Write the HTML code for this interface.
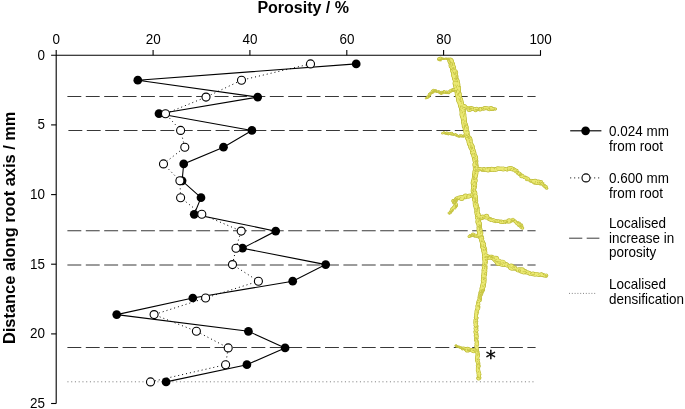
<!DOCTYPE html><html><head><meta charset="utf-8"><title>Porosity</title>
<style>html,body{margin:0;padding:0;background:#fff}svg{display:block}text{font-family:"Liberation Sans",sans-serif;fill:#000}.t{font-size:14.6px}.b{font-size:16px;font-weight:bold}</style></head><body>
<svg width="685" height="409" viewBox="0 0 685 409">
<rect width="685" height="409" fill="#fff"/>
<line x1="67.4" y1="96.5" x2="535.6" y2="96.5" stroke="#383838" stroke-width="1" stroke-dasharray="13.9 4.5"/>
<line x1="68.4" y1="130.5" x2="536.8" y2="130.5" stroke="#383838" stroke-width="1" stroke-dasharray="13.9 4.5"/>
<line x1="67.4" y1="230.75" x2="535.6" y2="230.75" stroke="#383838" stroke-width="1" stroke-dasharray="13.9 4.5"/>
<line x1="67.4" y1="265.0" x2="535.6" y2="265.0" stroke="#383838" stroke-width="1" stroke-dasharray="13.9 4.5"/>
<line x1="67.4" y1="347.5" x2="535.6" y2="347.5" stroke="#383838" stroke-width="1" stroke-dasharray="13.9 4.5"/>
<line x1="67.4" y1="381.8" x2="536" y2="381.8" stroke="#858585" stroke-width="1" stroke-dasharray="1.1 2.65"/>
<g fill="#bebc3a"><circle cx="450.2" cy="60.3" r="2.86"/><circle cx="450.8" cy="61.4" r="3.14"/><circle cx="451.4" cy="62.7" r="2.69"/><circle cx="452.0" cy="64.1" r="2.86"/><circle cx="451.9" cy="65.4" r="3.31"/><circle cx="452.4" cy="66.8" r="2.79"/><circle cx="453.0" cy="67.9" r="3.08"/><circle cx="453.4" cy="69.1" r="2.73"/><circle cx="453.0" cy="70.5" r="2.91"/><circle cx="454.2" cy="71.7" r="3.04"/><circle cx="454.9" cy="72.6" r="3.22"/><circle cx="454.6" cy="74.2" r="3.29"/><circle cx="454.4" cy="75.0" r="3.34"/><circle cx="455.6" cy="76.5" r="2.84"/><circle cx="455.1" cy="77.8" r="3.15"/><circle cx="455.4" cy="79.2" r="2.97"/><circle cx="456.2" cy="80.5" r="3.12"/><circle cx="456.4" cy="82.0" r="3.38"/><circle cx="455.8" cy="83.2" r="3.19"/><circle cx="456.9" cy="84.3" r="3.41"/><circle cx="456.4" cy="85.7" r="3.22"/><circle cx="456.7" cy="86.5" r="3.11"/><circle cx="457.7" cy="87.8" r="3.33"/><circle cx="457.3" cy="89.1" r="3.29"/><circle cx="458.0" cy="90.8" r="2.90"/><circle cx="458.1" cy="91.6" r="2.71"/><circle cx="458.0" cy="93.4" r="3.22"/><circle cx="458.5" cy="94.7" r="3.42"/><circle cx="458.2" cy="95.8" r="2.91"/><circle cx="458.7" cy="96.9" r="2.70"/><circle cx="459.0" cy="97.9" r="3.14"/><circle cx="459.5" cy="99.8" r="3.34"/><circle cx="459.9" cy="100.7" r="3.36"/><circle cx="460.5" cy="102.0" r="3.07"/><circle cx="460.8" cy="103.5" r="3.10"/><circle cx="460.9" cy="104.6" r="3.06"/><circle cx="461.1" cy="106.0" r="2.86"/><circle cx="461.7" cy="106.7" r="3.07"/><circle cx="462.1" cy="108.0" r="2.99"/><circle cx="462.5" cy="109.3" r="3.15"/><circle cx="462.5" cy="110.9" r="3.15"/><circle cx="463.0" cy="112.2" r="2.95"/><circle cx="462.5" cy="113.5" r="2.70"/><circle cx="462.9" cy="114.6" r="3.41"/><circle cx="463.2" cy="115.9" r="3.13"/><circle cx="463.5" cy="117.3" r="2.92"/><circle cx="463.7" cy="118.7" r="2.91"/><circle cx="464.1" cy="119.9" r="2.70"/><circle cx="463.9" cy="121.3" r="2.68"/><circle cx="464.1" cy="122.3" r="2.63"/><circle cx="464.3" cy="123.5" r="2.95"/><circle cx="465.3" cy="124.9" r="2.70"/><circle cx="464.8" cy="126.1" r="3.06"/><circle cx="465.9" cy="127.4" r="2.92"/><circle cx="465.3" cy="128.8" r="2.62"/><circle cx="466.3" cy="130.2" r="2.60"/><circle cx="465.9" cy="131.5" r="2.59"/><circle cx="466.8" cy="132.5" r="2.91"/><circle cx="466.4" cy="134.0" r="2.56"/><circle cx="466.9" cy="135.0" r="2.65"/><circle cx="467.5" cy="136.5" r="2.76"/><circle cx="467.5" cy="137.8" r="2.57"/><circle cx="469.0" cy="138.7" r="3.07"/><circle cx="469.4" cy="139.8" r="3.12"/><circle cx="469.7" cy="141.3" r="2.98"/><circle cx="469.5" cy="142.3" r="2.82"/><circle cx="469.6" cy="143.7" r="2.62"/><circle cx="470.9" cy="144.6" r="2.67"/><circle cx="471.2" cy="146.4" r="3.09"/><circle cx="471.8" cy="147.4" r="3.08"/><circle cx="472.0" cy="148.4" r="2.48"/><circle cx="472.4" cy="149.8" r="2.67"/><circle cx="473.1" cy="151.1" r="2.75"/><circle cx="472.7" cy="152.5" r="2.70"/><circle cx="473.7" cy="153.4" r="2.80"/><circle cx="473.8" cy="155.0" r="2.60"/><circle cx="474.4" cy="156.3" r="2.59"/><circle cx="474.8" cy="157.0" r="3.02"/><circle cx="475.2" cy="158.2" r="2.90"/><circle cx="475.0" cy="159.8" r="2.65"/><circle cx="475.6" cy="161.2" r="2.76"/><circle cx="475.5" cy="162.0" r="2.47"/><circle cx="475.5" cy="163.8" r="2.55"/><circle cx="475.4" cy="164.8" r="3.06"/><circle cx="475.6" cy="166.1" r="2.68"/><circle cx="475.8" cy="167.4" r="2.91"/><circle cx="475.5" cy="168.5" r="2.60"/><circle cx="475.8" cy="170.0" r="2.85"/><circle cx="475.1" cy="171.3" r="2.52"/><circle cx="475.6" cy="172.5" r="2.88"/><circle cx="475.2" cy="173.9" r="3.02"/><circle cx="474.9" cy="175.3" r="2.72"/><circle cx="474.9" cy="176.4" r="2.76"/><circle cx="474.5" cy="177.9" r="2.64"/><circle cx="474.2" cy="179.0" r="2.52"/><circle cx="474.6" cy="180.3" r="3.07"/><circle cx="474.2" cy="181.5" r="3.09"/><circle cx="473.4" cy="183.1" r="2.79"/><circle cx="474.2" cy="184.4" r="2.92"/><circle cx="474.1" cy="185.5" r="2.93"/><circle cx="473.9" cy="186.5" r="2.54"/><circle cx="474.1" cy="187.8" r="2.57"/><circle cx="473.4" cy="189.6" r="2.53"/><circle cx="473.3" cy="190.9" r="2.59"/><circle cx="474.2" cy="192.1" r="2.55"/><circle cx="474.3" cy="193.3" r="3.04"/><circle cx="473.6" cy="194.7" r="3.02"/><circle cx="474.5" cy="195.6" r="2.82"/><circle cx="475.0" cy="196.9" r="2.98"/><circle cx="474.9" cy="198.6" r="2.69"/><circle cx="474.7" cy="199.5" r="2.63"/><circle cx="475.5" cy="200.9" r="2.69"/><circle cx="475.4" cy="202.2" r="2.53"/><circle cx="475.3" cy="203.5" r="2.56"/><circle cx="475.8" cy="205.0" r="2.91"/><circle cx="476.4" cy="206.2" r="2.40"/><circle cx="476.4" cy="207.4" r="2.73"/><circle cx="477.0" cy="208.4" r="2.71"/><circle cx="477.1" cy="210.2" r="2.36"/><circle cx="477.0" cy="211.3" r="2.63"/><circle cx="477.0" cy="212.3" r="2.42"/><circle cx="477.2" cy="213.6" r="2.67"/><circle cx="478.1" cy="215.0" r="2.74"/><circle cx="477.7" cy="216.6" r="2.75"/><circle cx="477.7" cy="217.5" r="2.67"/><circle cx="478.1" cy="218.9" r="2.31"/><circle cx="478.2" cy="220.1" r="2.41"/><circle cx="478.1" cy="221.8" r="2.79"/><circle cx="478.8" cy="222.8" r="2.60"/><circle cx="479.2" cy="224.1" r="2.83"/><circle cx="479.3" cy="225.6" r="2.60"/><circle cx="479.5" cy="226.9" r="2.55"/><circle cx="479.1" cy="227.8" r="2.59"/><circle cx="479.7" cy="229.5" r="2.75"/><circle cx="479.4" cy="230.3" r="2.84"/><circle cx="479.5" cy="231.9" r="2.46"/><circle cx="480.5" cy="233.0" r="2.84"/><circle cx="480.1" cy="234.3" r="2.85"/><circle cx="480.2" cy="235.4" r="2.76"/><circle cx="480.7" cy="236.8" r="2.83"/><circle cx="481.4" cy="237.9" r="2.67"/><circle cx="481.5" cy="239.4" r="2.51"/><circle cx="481.9" cy="241.0" r="2.43"/><circle cx="482.2" cy="241.7" r="2.55"/><circle cx="482.6" cy="243.0" r="2.47"/><circle cx="483.2" cy="244.3" r="2.86"/><circle cx="482.9" cy="245.9" r="2.89"/><circle cx="483.1" cy="247.1" r="2.78"/><circle cx="484.0" cy="248.2" r="2.71"/><circle cx="484.4" cy="249.7" r="2.78"/><circle cx="483.8" cy="250.8" r="2.64"/><circle cx="484.8" cy="252.2" r="2.52"/><circle cx="484.5" cy="253.4" r="2.66"/><circle cx="484.8" cy="254.9" r="2.70"/><circle cx="484.8" cy="256.2" r="2.71"/><circle cx="484.9" cy="257.3" r="2.39"/><circle cx="485.1" cy="258.6" r="2.68"/><circle cx="484.8" cy="259.6" r="2.59"/><circle cx="485.2" cy="261.3" r="2.34"/><circle cx="485.2" cy="262.3" r="2.64"/><circle cx="484.8" cy="263.9" r="2.47"/><circle cx="484.8" cy="264.8" r="2.32"/><circle cx="484.6" cy="266.2" r="2.79"/><circle cx="484.7" cy="267.8" r="2.55"/><circle cx="484.9" cy="268.7" r="2.52"/><circle cx="483.9" cy="269.9" r="2.47"/><circle cx="484.5" cy="271.3" r="2.79"/><circle cx="484.0" cy="272.9" r="2.42"/><circle cx="484.3" cy="274.1" r="2.82"/><circle cx="483.8" cy="275.2" r="2.39"/><circle cx="483.8" cy="276.5" r="2.63"/><circle cx="483.9" cy="277.7" r="2.46"/><circle cx="483.9" cy="279.5" r="2.81"/><circle cx="483.4" cy="280.6" r="2.54"/><circle cx="483.8" cy="281.9" r="2.70"/><circle cx="483.5" cy="283.1" r="2.49"/><circle cx="483.3" cy="284.1" r="2.68"/><circle cx="483.1" cy="285.7" r="2.79"/><circle cx="482.7" cy="286.8" r="2.63"/><circle cx="482.2" cy="288.3" r="2.63"/><circle cx="482.3" cy="289.6" r="2.71"/><circle cx="482.2" cy="290.5" r="2.30"/><circle cx="481.3" cy="291.6" r="2.22"/><circle cx="480.3" cy="292.8" r="2.00"/><circle cx="480.7" cy="294.2" r="2.09"/><circle cx="480.2" cy="295.3" r="2.25"/><circle cx="479.8" cy="297.1" r="2.25"/><circle cx="479.7" cy="298.0" r="2.18"/><circle cx="479.7" cy="299.6" r="2.22"/><circle cx="479.2" cy="300.6" r="2.04"/><circle cx="478.2" cy="301.7" r="1.88"/><circle cx="478.1" cy="303.2" r="1.93"/><circle cx="478.2" cy="304.4" r="2.17"/><circle cx="477.7" cy="305.7" r="2.15"/><circle cx="477.6" cy="306.8" r="2.20"/><circle cx="477.8" cy="308.2" r="2.27"/><circle cx="477.4" cy="309.6" r="2.01"/><circle cx="476.6" cy="310.7" r="1.94"/><circle cx="476.6" cy="312.1" r="2.21"/><circle cx="476.5" cy="313.3" r="1.92"/><circle cx="476.3" cy="314.5" r="2.03"/><circle cx="476.1" cy="316.0" r="1.88"/><circle cx="475.8" cy="317.3" r="1.86"/><circle cx="476.4" cy="318.3" r="2.03"/><circle cx="475.8" cy="319.6" r="2.03"/><circle cx="475.6" cy="320.9" r="2.30"/><circle cx="475.5" cy="322.6" r="2.06"/><circle cx="475.5" cy="323.5" r="2.00"/><circle cx="475.7" cy="325.3" r="2.18"/><circle cx="476.4" cy="326.3" r="2.06"/><circle cx="475.6" cy="327.9" r="1.95"/><circle cx="475.7" cy="328.7" r="2.14"/><circle cx="476.4" cy="330.3" r="2.16"/><circle cx="475.4" cy="331.3" r="1.83"/><circle cx="475.4" cy="332.6" r="1.91"/><circle cx="476.4" cy="334.0" r="2.15"/><circle cx="476.0" cy="335.7" r="2.30"/><circle cx="476.6" cy="336.5" r="2.28"/><circle cx="476.3" cy="338.3" r="1.98"/><circle cx="476.0" cy="339.6" r="1.87"/><circle cx="476.2" cy="340.6" r="1.89"/><circle cx="476.9" cy="341.8" r="2.16"/><circle cx="476.7" cy="343.5" r="2.19"/><circle cx="477.0" cy="344.5" r="2.10"/><circle cx="476.3" cy="346.0" r="2.03"/><circle cx="476.4" cy="347.0" r="2.06"/><circle cx="476.9" cy="348.6" r="2.18"/><circle cx="476.9" cy="349.5" r="2.02"/><circle cx="476.5" cy="351.0" r="2.18"/><circle cx="477.3" cy="352.1" r="2.20"/><circle cx="477.6" cy="353.7" r="1.95"/><circle cx="477.7" cy="354.9" r="2.26"/><circle cx="477.7" cy="356.1" r="2.27"/><circle cx="477.1" cy="357.5" r="2.01"/><circle cx="477.2" cy="358.9" r="2.29"/><circle cx="477.3" cy="360.2" r="1.88"/><circle cx="477.4" cy="361.2" r="1.95"/><circle cx="478.0" cy="362.4" r="2.14"/><circle cx="478.5" cy="363.8" r="1.94"/><circle cx="478.0" cy="365.5" r="2.10"/><circle cx="478.5" cy="366.6" r="2.12"/><circle cx="477.9" cy="367.6" r="1.92"/><circle cx="478.0" cy="368.9" r="2.23"/><circle cx="478.1" cy="370.7" r="2.30"/><circle cx="478.5" cy="371.6" r="1.87"/><circle cx="478.8" cy="373.2" r="2.23"/><circle cx="479.1" cy="374.3" r="2.20"/><circle cx="478.8" cy="375.5" r="2.12"/><circle cx="479.0" cy="377.2" r="2.24"/><circle cx="479.0" cy="378.3" r="1.93"/><circle cx="478.5" cy="378.3" r="2.18"/><circle cx="449.1" cy="59.3" r="1.39"/><circle cx="448.1" cy="58.5" r="1.05"/><circle cx="446.7" cy="58.5" r="0.99"/><circle cx="445.5" cy="58.9" r="0.85"/><circle cx="445.4" cy="58.5" r="1.10"/><circle cx="443.7" cy="58.9" r="1.15"/><circle cx="442.7" cy="58.7" r="1.11"/><circle cx="442.2" cy="58.3" r="0.89"/><circle cx="440.8" cy="58.9" r="1.05"/><circle cx="440.5" cy="58.4" r="1.80"/><circle cx="439.3" cy="59.3" r="2.00"/><circle cx="438.9" cy="59.1" r="1.73"/><circle cx="455.5" cy="90.3" r="1.46"/><circle cx="455.5" cy="91.1" r="1.81"/><circle cx="453.5" cy="90.0" r="1.89"/><circle cx="453.0" cy="89.9" r="1.56"/><circle cx="451.8" cy="90.3" r="1.84"/><circle cx="450.7" cy="90.7" r="1.80"/><circle cx="450.2" cy="91.0" r="1.50"/><circle cx="448.9" cy="91.9" r="1.64"/><circle cx="448.8" cy="92.7" r="1.51"/><circle cx="447.0" cy="92.7" r="1.18"/><circle cx="446.7" cy="92.2" r="1.78"/><circle cx="446.0" cy="92.2" r="1.37"/><circle cx="444.5" cy="92.1" r="1.68"/><circle cx="444.0" cy="91.7" r="1.61"/><circle cx="443.0" cy="92.4" r="1.21"/><circle cx="441.5" cy="92.5" r="1.69"/><circle cx="441.3" cy="93.8" r="1.12"/><circle cx="440.4" cy="93.1" r="1.42"/><circle cx="439.0" cy="91.8" r="1.50"/><circle cx="438.7" cy="91.7" r="1.21"/><circle cx="437.1" cy="91.6" r="1.35"/><circle cx="435.7" cy="90.7" r="1.37"/><circle cx="435.5" cy="91.0" r="1.40"/><circle cx="433.6" cy="90.5" r="1.66"/><circle cx="433.0" cy="91.3" r="1.40"/><circle cx="432.7" cy="91.6" r="2.08"/><circle cx="432.2" cy="92.5" r="1.36"/><circle cx="430.4" cy="92.9" r="1.15"/><circle cx="429.9" cy="94.4" r="1.53"/><circle cx="429.4" cy="94.4" r="1.59"/><circle cx="429.4" cy="95.0" r="1.08"/><circle cx="427.6" cy="96.3" r="1.13"/><circle cx="427.6" cy="97.4" r="1.43"/><circle cx="427.2" cy="97.2" r="0.98"/><circle cx="425.9" cy="98.3" r="1.13"/><circle cx="463.3" cy="105.6" r="1.54"/><circle cx="464.4" cy="106.6" r="2.41"/><circle cx="464.2" cy="107.0" r="2.77"/><circle cx="466.2" cy="107.5" r="1.64"/><circle cx="466.8" cy="107.2" r="1.50"/><circle cx="468.3" cy="107.5" r="1.55"/><circle cx="468.3" cy="107.9" r="2.01"/><circle cx="469.4" cy="108.9" r="3.01"/><circle cx="470.5" cy="108.4" r="2.37"/><circle cx="472.1" cy="108.5" r="2.31"/><circle cx="473.2" cy="109.2" r="1.42"/><circle cx="473.9" cy="109.0" r="1.91"/><circle cx="474.6" cy="109.3" r="1.87"/><circle cx="475.6" cy="110.0" r="2.22"/><circle cx="476.7" cy="108.9" r="2.12"/><circle cx="477.9" cy="109.6" r="1.39"/><circle cx="479.5" cy="109.4" r="1.84"/><circle cx="480.2" cy="109.2" r="2.20"/><circle cx="481.1" cy="108.3" r="1.40"/><circle cx="482.2" cy="108.5" r="1.82"/><circle cx="483.4" cy="109.1" r="1.57"/><circle cx="484.7" cy="108.1" r="2.08"/><circle cx="484.9" cy="108.3" r="2.09"/><circle cx="486.6" cy="108.1" r="1.87"/><circle cx="487.4" cy="108.5" r="2.05"/><circle cx="488.5" cy="108.5" r="1.95"/><circle cx="489.5" cy="109.0" r="2.23"/><circle cx="491.0" cy="108.5" r="2.38"/><circle cx="491.3" cy="108.8" r="1.99"/><circle cx="493.1" cy="109.1" r="1.89"/><circle cx="493.7" cy="108.7" r="1.47"/><circle cx="495.2" cy="109.0" r="1.47"/><circle cx="495.6" cy="109.1" r="1.29"/><circle cx="464.8" cy="135.2" r="1.51"/><circle cx="464.5" cy="135.6" r="1.11"/><circle cx="463.3" cy="136.2" r="1.58"/><circle cx="461.4" cy="136.2" r="1.37"/><circle cx="461.3" cy="135.6" r="1.31"/><circle cx="459.9" cy="135.4" r="1.18"/><circle cx="458.1" cy="136.4" r="1.06"/><circle cx="457.6" cy="135.8" r="1.15"/><circle cx="456.9" cy="135.4" r="1.29"/><circle cx="455.9" cy="134.6" r="1.08"/><circle cx="455.3" cy="134.3" r="1.27"/><circle cx="453.6" cy="134.9" r="1.00"/><circle cx="452.6" cy="134.2" r="1.47"/><circle cx="451.6" cy="133.3" r="1.49"/><circle cx="451.2" cy="133.7" r="1.69"/><circle cx="449.3" cy="133.5" r="1.62"/><circle cx="448.3" cy="134.0" r="1.42"/><circle cx="447.2" cy="133.0" r="1.30"/><circle cx="446.6" cy="133.3" r="1.80"/><circle cx="446.0" cy="133.4" r="1.11"/><circle cx="443.9" cy="132.8" r="1.29"/><circle cx="443.8" cy="132.4" r="1.06"/><circle cx="442.5" cy="133.2" r="1.30"/><circle cx="476.6" cy="168.4" r="2.11"/><circle cx="478.5" cy="169.5" r="2.22"/><circle cx="479.0" cy="168.8" r="1.71"/><circle cx="480.4" cy="169.0" r="1.92"/><circle cx="481.1" cy="169.4" r="1.76"/><circle cx="481.9" cy="169.6" r="1.91"/><circle cx="483.6" cy="169.4" r="2.31"/><circle cx="484.5" cy="169.5" r="2.23"/><circle cx="485.8" cy="169.6" r="1.68"/><circle cx="486.9" cy="169.7" r="2.26"/><circle cx="488.1" cy="169.3" r="1.85"/><circle cx="488.1" cy="169.7" r="2.70"/><circle cx="489.7" cy="168.9" r="1.97"/><circle cx="490.6" cy="169.4" r="2.17"/><circle cx="491.7" cy="169.4" r="2.53"/><circle cx="492.2" cy="169.6" r="2.48"/><circle cx="494.2" cy="169.7" r="2.17"/><circle cx="495.2" cy="169.4" r="2.15"/><circle cx="496.1" cy="169.4" r="2.43"/><circle cx="497.0" cy="168.7" r="1.93"/><circle cx="497.8" cy="168.5" r="2.30"/><circle cx="499.3" cy="168.6" r="2.14"/><circle cx="500.0" cy="169.1" r="1.96"/><circle cx="501.1" cy="168.6" r="2.12"/><circle cx="501.7" cy="169.0" r="2.06"/><circle cx="503.2" cy="168.9" r="2.50"/><circle cx="504.0" cy="169.5" r="1.59"/><circle cx="505.3" cy="168.9" r="1.64"/><circle cx="506.0" cy="169.1" r="1.78"/><circle cx="507.1" cy="169.6" r="2.03"/><circle cx="508.9" cy="168.5" r="2.32"/><circle cx="509.2" cy="168.9" r="2.22"/><circle cx="510.9" cy="168.6" r="2.49"/><circle cx="511.6" cy="168.8" r="2.16"/><circle cx="512.7" cy="169.2" r="2.36"/><circle cx="513.3" cy="169.3" r="1.91"/><circle cx="513.9" cy="169.5" r="2.06"/><circle cx="515.6" cy="170.6" r="2.11"/><circle cx="516.3" cy="171.1" r="2.41"/><circle cx="517.2" cy="172.4" r="1.50"/><circle cx="518.3" cy="172.8" r="1.65"/><circle cx="518.1" cy="173.3" r="1.92"/><circle cx="518.9" cy="173.5" r="2.10"/><circle cx="519.7" cy="174.0" r="2.04"/><circle cx="520.9" cy="175.0" r="1.51"/><circle cx="521.6" cy="175.9" r="2.39"/><circle cx="523.1" cy="175.8" r="1.42"/><circle cx="523.5" cy="177.3" r="1.45"/><circle cx="524.5" cy="177.6" r="1.51"/><circle cx="525.3" cy="177.4" r="1.83"/><circle cx="526.2" cy="178.0" r="1.83"/><circle cx="527.1" cy="178.9" r="2.31"/><circle cx="528.0" cy="178.8" r="1.90"/><circle cx="528.8" cy="180.0" r="1.41"/><circle cx="530.2" cy="180.6" r="1.63"/><circle cx="530.9" cy="180.7" r="2.05"/><circle cx="532.0" cy="180.7" r="1.43"/><circle cx="533.2" cy="181.3" r="2.21"/><circle cx="533.6" cy="181.5" r="1.48"/><circle cx="535.1" cy="181.8" r="2.95"/><circle cx="536.0" cy="181.5" r="1.57"/><circle cx="537.4" cy="182.7" r="2.28"/><circle cx="538.4" cy="182.3" r="2.80"/><circle cx="538.9" cy="182.3" r="1.75"/><circle cx="540.8" cy="182.4" r="2.44"/><circle cx="540.7" cy="183.4" r="2.17"/><circle cx="542.2" cy="183.6" r="1.78"/><circle cx="542.9" cy="184.8" r="1.39"/><circle cx="543.9" cy="185.5" r="1.67"/><circle cx="544.5" cy="185.6" r="1.67"/><circle cx="544.6" cy="186.2" r="1.70"/><circle cx="545.9" cy="186.9" r="1.92"/><circle cx="546.7" cy="188.2" r="1.59"/><circle cx="472.4" cy="194.9" r="1.98"/><circle cx="471.7" cy="195.2" r="1.73"/><circle cx="470.1" cy="195.7" r="2.14"/><circle cx="469.6" cy="195.7" r="1.72"/><circle cx="468.7" cy="196.3" r="2.44"/><circle cx="467.1" cy="195.8" r="1.81"/><circle cx="466.5" cy="196.5" r="1.66"/><circle cx="465.6" cy="196.4" r="2.78"/><circle cx="464.2" cy="196.3" r="1.79"/><circle cx="463.6" cy="197.5" r="1.79"/><circle cx="462.6" cy="197.5" r="1.59"/><circle cx="461.6" cy="198.0" r="3.02"/><circle cx="460.8" cy="197.6" r="1.50"/><circle cx="459.2" cy="197.7" r="2.17"/><circle cx="458.2" cy="198.2" r="1.56"/><circle cx="456.9" cy="198.1" r="1.76"/><circle cx="456.2" cy="199.8" r="2.20"/><circle cx="455.8" cy="199.4" r="2.04"/><circle cx="454.1" cy="200.6" r="1.53"/><circle cx="453.1" cy="200.7" r="1.61"/><circle cx="453.1" cy="201.0" r="1.80"/><circle cx="454.1" cy="202.4" r="2.02"/><circle cx="454.0" cy="202.5" r="1.35"/><circle cx="455.5" cy="203.8" r="2.10"/><circle cx="455.1" cy="205.1" r="1.37"/><circle cx="456.6" cy="205.0" r="1.49"/><circle cx="455.6" cy="205.7" r="2.02"/><circle cx="454.4" cy="207.1" r="1.98"/><circle cx="453.4" cy="207.7" r="1.72"/><circle cx="452.9" cy="208.0" r="1.25"/><circle cx="452.2" cy="209.2" r="1.89"/><circle cx="451.4" cy="209.9" r="1.53"/><circle cx="451.4" cy="210.7" r="1.81"/><circle cx="450.9" cy="211.6" r="1.29"/><circle cx="450.3" cy="212.4" r="1.47"/><circle cx="449.0" cy="213.1" r="1.45"/><circle cx="479.2" cy="218.7" r="2.10"/><circle cx="480.9" cy="217.8" r="2.34"/><circle cx="481.6" cy="217.6" r="2.49"/><circle cx="482.6" cy="217.9" r="1.64"/><circle cx="482.7" cy="217.0" r="2.48"/><circle cx="484.1" cy="217.0" r="1.65"/><circle cx="485.3" cy="217.1" r="2.37"/><circle cx="486.5" cy="216.6" r="2.73"/><circle cx="486.8" cy="217.8" r="1.60"/><circle cx="488.2" cy="217.5" r="1.54"/><circle cx="488.6" cy="218.8" r="2.02"/><circle cx="490.2" cy="219.3" r="2.25"/><circle cx="490.8" cy="220.0" r="1.50"/><circle cx="491.3" cy="220.4" r="1.70"/><circle cx="492.9" cy="220.0" r="1.92"/><circle cx="494.0" cy="220.6" r="2.19"/><circle cx="495.1" cy="220.9" r="1.69"/><circle cx="495.9" cy="220.9" r="1.83"/><circle cx="497.1" cy="221.0" r="1.77"/><circle cx="498.0" cy="221.4" r="1.50"/><circle cx="498.7" cy="221.1" r="1.82"/><circle cx="500.0" cy="221.4" r="1.51"/><circle cx="500.9" cy="221.8" r="2.31"/><circle cx="501.9" cy="221.8" r="1.97"/><circle cx="502.6" cy="222.2" r="1.86"/><circle cx="503.5" cy="221.9" r="1.67"/><circle cx="504.7" cy="221.6" r="1.79"/><circle cx="506.2" cy="221.0" r="1.50"/><circle cx="507.7" cy="221.3" r="1.53"/><circle cx="508.3" cy="221.5" r="1.87"/><circle cx="509.1" cy="220.9" r="2.54"/><circle cx="509.9" cy="220.4" r="1.38"/><circle cx="511.2" cy="220.8" r="1.89"/><circle cx="511.7" cy="220.2" r="1.79"/><circle cx="513.0" cy="219.3" r="1.64"/><circle cx="513.6" cy="220.8" r="1.35"/><circle cx="515.1" cy="221.2" r="1.81"/><circle cx="515.4" cy="222.2" r="1.35"/><circle cx="516.2" cy="222.7" r="1.41"/><circle cx="516.9" cy="222.9" r="1.98"/><circle cx="518.7" cy="224.0" r="2.41"/><circle cx="519.1" cy="224.9" r="2.04"/><circle cx="519.3" cy="224.6" r="1.48"/><circle cx="520.8" cy="225.6" r="2.47"/><circle cx="521.4" cy="226.9" r="1.96"/><circle cx="521.8" cy="227.2" r="1.27"/><circle cx="522.5" cy="228.0" r="1.77"/><circle cx="479.2" cy="236.6" r="2.02"/><circle cx="478.0" cy="236.2" r="2.08"/><circle cx="476.6" cy="236.0" r="1.52"/><circle cx="476.2" cy="235.5" r="1.70"/><circle cx="475.2" cy="235.7" r="2.06"/><circle cx="474.5" cy="235.4" r="1.94"/><circle cx="473.0" cy="234.4" r="1.97"/><circle cx="472.4" cy="235.0" r="1.67"/><circle cx="470.8" cy="235.7" r="1.75"/><circle cx="470.2" cy="235.5" r="1.58"/><circle cx="469.1" cy="236.4" r="1.52"/><circle cx="485.6" cy="256.8" r="2.82"/><circle cx="487.1" cy="256.8" r="2.62"/><circle cx="487.8" cy="257.1" r="2.59"/><circle cx="489.3" cy="257.5" r="2.26"/><circle cx="490.6" cy="257.0" r="1.84"/><circle cx="490.6" cy="257.1" r="2.40"/><circle cx="491.8" cy="257.3" r="2.44"/><circle cx="492.6" cy="258.3" r="1.84"/><circle cx="494.0" cy="258.3" r="2.63"/><circle cx="495.0" cy="259.4" r="2.29"/><circle cx="495.8" cy="259.1" r="3.35"/><circle cx="495.7" cy="260.2" r="2.32"/><circle cx="496.9" cy="261.3" r="2.69"/><circle cx="497.8" cy="261.0" r="2.06"/><circle cx="498.6" cy="262.3" r="3.63"/><circle cx="500.3" cy="262.5" r="1.77"/><circle cx="501.2" cy="262.8" r="2.03"/><circle cx="501.7" cy="263.7" r="2.34"/><circle cx="502.4" cy="263.2" r="3.57"/><circle cx="503.4" cy="264.2" r="2.51"/><circle cx="504.7" cy="264.8" r="1.80"/><circle cx="506.1" cy="264.6" r="2.52"/><circle cx="506.9" cy="265.1" r="2.38"/><circle cx="507.3" cy="265.4" r="1.92"/><circle cx="509.1" cy="265.9" r="1.68"/><circle cx="509.8" cy="266.0" r="1.74"/><circle cx="511.0" cy="266.8" r="3.32"/><circle cx="511.0" cy="266.6" r="2.45"/><circle cx="512.1" cy="267.8" r="2.91"/><circle cx="513.9" cy="267.9" r="2.49"/><circle cx="514.6" cy="268.1" r="2.48"/><circle cx="515.2" cy="268.5" r="2.01"/><circle cx="516.5" cy="269.3" r="1.66"/><circle cx="517.9" cy="269.9" r="2.47"/><circle cx="518.7" cy="270.2" r="2.33"/><circle cx="519.5" cy="269.7" r="2.35"/><circle cx="520.6" cy="270.0" r="1.75"/><circle cx="521.9" cy="270.5" r="3.21"/><circle cx="522.9" cy="271.1" r="2.34"/><circle cx="523.8" cy="270.9" r="2.20"/><circle cx="523.8" cy="272.2" r="2.38"/><circle cx="525.1" cy="271.4" r="2.32"/><circle cx="527.0" cy="272.5" r="1.75"/><circle cx="527.6" cy="272.5" r="2.32"/><circle cx="528.4" cy="272.6" r="1.71"/><circle cx="529.5" cy="273.3" r="2.18"/><circle cx="530.1" cy="273.7" r="2.06"/><circle cx="532.0" cy="273.6" r="1.65"/><circle cx="533.0" cy="273.9" r="2.37"/><circle cx="533.1" cy="274.0" r="2.16"/><circle cx="534.8" cy="274.5" r="1.98"/><circle cx="535.2" cy="274.4" r="2.18"/><circle cx="536.1" cy="273.9" r="2.01"/><circle cx="537.9" cy="274.5" r="2.33"/><circle cx="538.8" cy="275.1" r="1.77"/><circle cx="539.5" cy="274.8" r="1.89"/><circle cx="541.3" cy="274.2" r="1.95"/><circle cx="541.6" cy="274.7" r="2.27"/><circle cx="543.3" cy="275.3" r="1.46"/><circle cx="543.4" cy="275.1" r="2.16"/><circle cx="544.7" cy="275.8" r="1.81"/><circle cx="546.3" cy="275.3" r="1.88"/><circle cx="545.9" cy="275.9" r="1.88"/><circle cx="475.4" cy="350.9" r="2.08"/><circle cx="473.9" cy="350.9" r="2.32"/><circle cx="473.0" cy="350.4" r="2.46"/><circle cx="472.6" cy="349.9" r="1.63"/><circle cx="471.7" cy="350.2" r="2.07"/><circle cx="470.4" cy="350.1" r="2.00"/><circle cx="469.5" cy="349.5" r="1.93"/><circle cx="467.6" cy="349.4" r="2.00"/><circle cx="467.5" cy="349.7" r="2.87"/><circle cx="465.5" cy="349.8" r="1.37"/><circle cx="465.6" cy="348.7" r="1.53"/><circle cx="464.4" cy="348.3" r="1.58"/><circle cx="463.5" cy="348.2" r="1.63"/><circle cx="462.6" cy="348.3" r="1.45"/><circle cx="462.5" cy="348.8" r="1.61"/><circle cx="461.9" cy="347.8" r="1.15"/><circle cx="460.4" cy="347.4" r="1.49"/><circle cx="459.5" cy="347.0" r="1.01"/><circle cx="459.0" cy="346.4" r="1.02"/><circle cx="457.6" cy="346.5" r="1.19"/><circle cx="457.0" cy="346.6" r="1.08"/><circle cx="456.1" cy="345.4" r="1.12"/><circle cx="455.3" cy="345.6" r="0.91"/></g>
<g fill="#ebe974"><circle cx="450.2" cy="60.3" r="2.16"/><circle cx="450.8" cy="61.4" r="2.44"/><circle cx="451.4" cy="62.7" r="1.99"/><circle cx="452.0" cy="64.1" r="2.16"/><circle cx="451.9" cy="65.4" r="2.61"/><circle cx="452.4" cy="66.8" r="2.09"/><circle cx="453.0" cy="67.9" r="2.38"/><circle cx="453.4" cy="69.1" r="2.03"/><circle cx="453.0" cy="70.5" r="2.21"/><circle cx="454.2" cy="71.7" r="2.34"/><circle cx="454.9" cy="72.6" r="2.52"/><circle cx="454.6" cy="74.2" r="2.59"/><circle cx="454.4" cy="75.0" r="2.64"/><circle cx="455.6" cy="76.5" r="2.14"/><circle cx="455.1" cy="77.8" r="2.45"/><circle cx="455.4" cy="79.2" r="2.27"/><circle cx="456.2" cy="80.5" r="2.42"/><circle cx="456.4" cy="82.0" r="2.68"/><circle cx="455.8" cy="83.2" r="2.49"/><circle cx="456.9" cy="84.3" r="2.71"/><circle cx="456.4" cy="85.7" r="2.52"/><circle cx="456.7" cy="86.5" r="2.41"/><circle cx="457.7" cy="87.8" r="2.63"/><circle cx="457.3" cy="89.1" r="2.59"/><circle cx="458.0" cy="90.8" r="2.20"/><circle cx="458.1" cy="91.6" r="2.01"/><circle cx="458.0" cy="93.4" r="2.52"/><circle cx="458.5" cy="94.7" r="2.72"/><circle cx="458.2" cy="95.8" r="2.21"/><circle cx="458.7" cy="96.9" r="2.00"/><circle cx="459.0" cy="97.9" r="2.44"/><circle cx="459.5" cy="99.8" r="2.64"/><circle cx="459.9" cy="100.7" r="2.66"/><circle cx="460.5" cy="102.0" r="2.37"/><circle cx="460.8" cy="103.5" r="2.40"/><circle cx="460.9" cy="104.6" r="2.36"/><circle cx="461.1" cy="106.0" r="2.16"/><circle cx="461.7" cy="106.7" r="2.37"/><circle cx="462.1" cy="108.0" r="2.29"/><circle cx="462.5" cy="109.3" r="2.45"/><circle cx="462.5" cy="110.9" r="2.45"/><circle cx="463.0" cy="112.2" r="2.25"/><circle cx="462.5" cy="113.5" r="2.00"/><circle cx="462.9" cy="114.6" r="2.71"/><circle cx="463.2" cy="115.9" r="2.43"/><circle cx="463.5" cy="117.3" r="2.22"/><circle cx="463.7" cy="118.7" r="2.21"/><circle cx="464.1" cy="119.9" r="2.00"/><circle cx="463.9" cy="121.3" r="1.98"/><circle cx="464.1" cy="122.3" r="1.93"/><circle cx="464.3" cy="123.5" r="2.25"/><circle cx="465.3" cy="124.9" r="2.00"/><circle cx="464.8" cy="126.1" r="2.36"/><circle cx="465.9" cy="127.4" r="2.22"/><circle cx="465.3" cy="128.8" r="1.92"/><circle cx="466.3" cy="130.2" r="1.90"/><circle cx="465.9" cy="131.5" r="1.89"/><circle cx="466.8" cy="132.5" r="2.21"/><circle cx="466.4" cy="134.0" r="1.86"/><circle cx="466.9" cy="135.0" r="1.95"/><circle cx="467.5" cy="136.5" r="2.06"/><circle cx="467.5" cy="137.8" r="1.87"/><circle cx="469.0" cy="138.7" r="2.37"/><circle cx="469.4" cy="139.8" r="2.42"/><circle cx="469.7" cy="141.3" r="2.28"/><circle cx="469.5" cy="142.3" r="2.12"/><circle cx="469.6" cy="143.7" r="1.92"/><circle cx="470.9" cy="144.6" r="1.97"/><circle cx="471.2" cy="146.4" r="2.39"/><circle cx="471.8" cy="147.4" r="2.38"/><circle cx="472.0" cy="148.4" r="1.78"/><circle cx="472.4" cy="149.8" r="1.97"/><circle cx="473.1" cy="151.1" r="2.05"/><circle cx="472.7" cy="152.5" r="2.00"/><circle cx="473.7" cy="153.4" r="2.10"/><circle cx="473.8" cy="155.0" r="1.90"/><circle cx="474.4" cy="156.3" r="1.89"/><circle cx="474.8" cy="157.0" r="2.32"/><circle cx="475.2" cy="158.2" r="2.20"/><circle cx="475.0" cy="159.8" r="1.95"/><circle cx="475.6" cy="161.2" r="2.06"/><circle cx="475.5" cy="162.0" r="1.77"/><circle cx="475.5" cy="163.8" r="1.85"/><circle cx="475.4" cy="164.8" r="2.36"/><circle cx="475.6" cy="166.1" r="1.98"/><circle cx="475.8" cy="167.4" r="2.21"/><circle cx="475.5" cy="168.5" r="1.90"/><circle cx="475.8" cy="170.0" r="2.15"/><circle cx="475.1" cy="171.3" r="1.82"/><circle cx="475.6" cy="172.5" r="2.18"/><circle cx="475.2" cy="173.9" r="2.32"/><circle cx="474.9" cy="175.3" r="2.02"/><circle cx="474.9" cy="176.4" r="2.06"/><circle cx="474.5" cy="177.9" r="1.94"/><circle cx="474.2" cy="179.0" r="1.82"/><circle cx="474.6" cy="180.3" r="2.37"/><circle cx="474.2" cy="181.5" r="2.39"/><circle cx="473.4" cy="183.1" r="2.09"/><circle cx="474.2" cy="184.4" r="2.22"/><circle cx="474.1" cy="185.5" r="2.23"/><circle cx="473.9" cy="186.5" r="1.84"/><circle cx="474.1" cy="187.8" r="1.87"/><circle cx="473.4" cy="189.6" r="1.83"/><circle cx="473.3" cy="190.9" r="1.89"/><circle cx="474.2" cy="192.1" r="1.85"/><circle cx="474.3" cy="193.3" r="2.34"/><circle cx="473.6" cy="194.7" r="2.32"/><circle cx="474.5" cy="195.6" r="2.12"/><circle cx="475.0" cy="196.9" r="2.28"/><circle cx="474.9" cy="198.6" r="1.99"/><circle cx="474.7" cy="199.5" r="1.93"/><circle cx="475.5" cy="200.9" r="1.99"/><circle cx="475.4" cy="202.2" r="1.83"/><circle cx="475.3" cy="203.5" r="1.86"/><circle cx="475.8" cy="205.0" r="2.21"/><circle cx="476.4" cy="206.2" r="1.70"/><circle cx="476.4" cy="207.4" r="2.03"/><circle cx="477.0" cy="208.4" r="2.01"/><circle cx="477.1" cy="210.2" r="1.66"/><circle cx="477.0" cy="211.3" r="1.93"/><circle cx="477.0" cy="212.3" r="1.72"/><circle cx="477.2" cy="213.6" r="1.97"/><circle cx="478.1" cy="215.0" r="2.04"/><circle cx="477.7" cy="216.6" r="2.05"/><circle cx="477.7" cy="217.5" r="1.97"/><circle cx="478.1" cy="218.9" r="1.61"/><circle cx="478.2" cy="220.1" r="1.71"/><circle cx="478.1" cy="221.8" r="2.09"/><circle cx="478.8" cy="222.8" r="1.90"/><circle cx="479.2" cy="224.1" r="2.13"/><circle cx="479.3" cy="225.6" r="1.90"/><circle cx="479.5" cy="226.9" r="1.85"/><circle cx="479.1" cy="227.8" r="1.89"/><circle cx="479.7" cy="229.5" r="2.05"/><circle cx="479.4" cy="230.3" r="2.14"/><circle cx="479.5" cy="231.9" r="1.76"/><circle cx="480.5" cy="233.0" r="2.14"/><circle cx="480.1" cy="234.3" r="2.15"/><circle cx="480.2" cy="235.4" r="2.06"/><circle cx="480.7" cy="236.8" r="2.13"/><circle cx="481.4" cy="237.9" r="1.97"/><circle cx="481.5" cy="239.4" r="1.81"/><circle cx="481.9" cy="241.0" r="1.73"/><circle cx="482.2" cy="241.7" r="1.85"/><circle cx="482.6" cy="243.0" r="1.77"/><circle cx="483.2" cy="244.3" r="2.16"/><circle cx="482.9" cy="245.9" r="2.19"/><circle cx="483.1" cy="247.1" r="2.08"/><circle cx="484.0" cy="248.2" r="2.01"/><circle cx="484.4" cy="249.7" r="2.08"/><circle cx="483.8" cy="250.8" r="1.94"/><circle cx="484.8" cy="252.2" r="1.82"/><circle cx="484.5" cy="253.4" r="1.96"/><circle cx="484.8" cy="254.9" r="2.00"/><circle cx="484.8" cy="256.2" r="2.01"/><circle cx="484.9" cy="257.3" r="1.69"/><circle cx="485.1" cy="258.6" r="1.98"/><circle cx="484.8" cy="259.6" r="1.89"/><circle cx="485.2" cy="261.3" r="1.64"/><circle cx="485.2" cy="262.3" r="1.94"/><circle cx="484.8" cy="263.9" r="1.77"/><circle cx="484.8" cy="264.8" r="1.62"/><circle cx="484.6" cy="266.2" r="2.09"/><circle cx="484.7" cy="267.8" r="1.85"/><circle cx="484.9" cy="268.7" r="1.82"/><circle cx="483.9" cy="269.9" r="1.77"/><circle cx="484.5" cy="271.3" r="2.09"/><circle cx="484.0" cy="272.9" r="1.72"/><circle cx="484.3" cy="274.1" r="2.12"/><circle cx="483.8" cy="275.2" r="1.69"/><circle cx="483.8" cy="276.5" r="1.93"/><circle cx="483.9" cy="277.7" r="1.76"/><circle cx="483.9" cy="279.5" r="2.11"/><circle cx="483.4" cy="280.6" r="1.84"/><circle cx="483.8" cy="281.9" r="2.00"/><circle cx="483.5" cy="283.1" r="1.79"/><circle cx="483.3" cy="284.1" r="1.98"/><circle cx="483.1" cy="285.7" r="2.09"/><circle cx="482.7" cy="286.8" r="1.93"/><circle cx="482.2" cy="288.3" r="1.93"/><circle cx="482.3" cy="289.6" r="2.01"/><circle cx="482.2" cy="290.5" r="1.60"/><circle cx="481.3" cy="291.6" r="1.52"/><circle cx="480.3" cy="292.8" r="1.30"/><circle cx="480.7" cy="294.2" r="1.39"/><circle cx="480.2" cy="295.3" r="1.55"/><circle cx="479.8" cy="297.1" r="1.55"/><circle cx="479.7" cy="298.0" r="1.48"/><circle cx="479.7" cy="299.6" r="1.52"/><circle cx="479.2" cy="300.6" r="1.34"/><circle cx="478.2" cy="301.7" r="1.18"/><circle cx="478.1" cy="303.2" r="1.23"/><circle cx="478.2" cy="304.4" r="1.47"/><circle cx="477.7" cy="305.7" r="1.45"/><circle cx="477.6" cy="306.8" r="1.50"/><circle cx="477.8" cy="308.2" r="1.57"/><circle cx="477.4" cy="309.6" r="1.31"/><circle cx="476.6" cy="310.7" r="1.24"/><circle cx="476.6" cy="312.1" r="1.51"/><circle cx="476.5" cy="313.3" r="1.22"/><circle cx="476.3" cy="314.5" r="1.33"/><circle cx="476.1" cy="316.0" r="1.18"/><circle cx="475.8" cy="317.3" r="1.16"/><circle cx="476.4" cy="318.3" r="1.33"/><circle cx="475.8" cy="319.6" r="1.33"/><circle cx="475.6" cy="320.9" r="1.60"/><circle cx="475.5" cy="322.6" r="1.36"/><circle cx="475.5" cy="323.5" r="1.30"/><circle cx="475.7" cy="325.3" r="1.48"/><circle cx="476.4" cy="326.3" r="1.36"/><circle cx="475.6" cy="327.9" r="1.25"/><circle cx="475.7" cy="328.7" r="1.44"/><circle cx="476.4" cy="330.3" r="1.46"/><circle cx="475.4" cy="331.3" r="1.13"/><circle cx="475.4" cy="332.6" r="1.21"/><circle cx="476.4" cy="334.0" r="1.45"/><circle cx="476.0" cy="335.7" r="1.60"/><circle cx="476.6" cy="336.5" r="1.58"/><circle cx="476.3" cy="338.3" r="1.28"/><circle cx="476.0" cy="339.6" r="1.17"/><circle cx="476.2" cy="340.6" r="1.19"/><circle cx="476.9" cy="341.8" r="1.46"/><circle cx="476.7" cy="343.5" r="1.49"/><circle cx="477.0" cy="344.5" r="1.40"/><circle cx="476.3" cy="346.0" r="1.33"/><circle cx="476.4" cy="347.0" r="1.36"/><circle cx="476.9" cy="348.6" r="1.48"/><circle cx="476.9" cy="349.5" r="1.32"/><circle cx="476.5" cy="351.0" r="1.48"/><circle cx="477.3" cy="352.1" r="1.50"/><circle cx="477.6" cy="353.7" r="1.25"/><circle cx="477.7" cy="354.9" r="1.56"/><circle cx="477.7" cy="356.1" r="1.57"/><circle cx="477.1" cy="357.5" r="1.31"/><circle cx="477.2" cy="358.9" r="1.59"/><circle cx="477.3" cy="360.2" r="1.18"/><circle cx="477.4" cy="361.2" r="1.25"/><circle cx="478.0" cy="362.4" r="1.44"/><circle cx="478.5" cy="363.8" r="1.24"/><circle cx="478.0" cy="365.5" r="1.40"/><circle cx="478.5" cy="366.6" r="1.42"/><circle cx="477.9" cy="367.6" r="1.22"/><circle cx="478.0" cy="368.9" r="1.53"/><circle cx="478.1" cy="370.7" r="1.60"/><circle cx="478.5" cy="371.6" r="1.17"/><circle cx="478.8" cy="373.2" r="1.53"/><circle cx="479.1" cy="374.3" r="1.50"/><circle cx="478.8" cy="375.5" r="1.42"/><circle cx="479.0" cy="377.2" r="1.54"/><circle cx="479.0" cy="378.3" r="1.23"/><circle cx="478.5" cy="378.3" r="1.48"/><circle cx="449.1" cy="59.3" r="0.69"/><circle cx="448.1" cy="58.5" r="0.50"/><circle cx="446.7" cy="58.5" r="0.50"/><circle cx="445.5" cy="58.9" r="0.50"/><circle cx="445.4" cy="58.5" r="0.50"/><circle cx="443.7" cy="58.9" r="0.50"/><circle cx="442.7" cy="58.7" r="0.50"/><circle cx="442.2" cy="58.3" r="0.50"/><circle cx="440.8" cy="58.9" r="0.50"/><circle cx="440.5" cy="58.4" r="1.10"/><circle cx="439.3" cy="59.3" r="1.30"/><circle cx="438.9" cy="59.1" r="1.03"/><circle cx="455.5" cy="90.3" r="0.76"/><circle cx="455.5" cy="91.1" r="1.11"/><circle cx="453.5" cy="90.0" r="1.19"/><circle cx="453.0" cy="89.9" r="0.86"/><circle cx="451.8" cy="90.3" r="1.14"/><circle cx="450.7" cy="90.7" r="1.10"/><circle cx="450.2" cy="91.0" r="0.80"/><circle cx="448.9" cy="91.9" r="0.94"/><circle cx="448.8" cy="92.7" r="0.81"/><circle cx="447.0" cy="92.7" r="0.50"/><circle cx="446.7" cy="92.2" r="1.08"/><circle cx="446.0" cy="92.2" r="0.67"/><circle cx="444.5" cy="92.1" r="0.98"/><circle cx="444.0" cy="91.7" r="0.91"/><circle cx="443.0" cy="92.4" r="0.51"/><circle cx="441.5" cy="92.5" r="0.99"/><circle cx="441.3" cy="93.8" r="0.50"/><circle cx="440.4" cy="93.1" r="0.72"/><circle cx="439.0" cy="91.8" r="0.80"/><circle cx="438.7" cy="91.7" r="0.51"/><circle cx="437.1" cy="91.6" r="0.65"/><circle cx="435.7" cy="90.7" r="0.67"/><circle cx="435.5" cy="91.0" r="0.70"/><circle cx="433.6" cy="90.5" r="0.96"/><circle cx="433.0" cy="91.3" r="0.70"/><circle cx="432.7" cy="91.6" r="1.38"/><circle cx="432.2" cy="92.5" r="0.66"/><circle cx="430.4" cy="92.9" r="0.50"/><circle cx="429.9" cy="94.4" r="0.83"/><circle cx="429.4" cy="94.4" r="0.89"/><circle cx="429.4" cy="95.0" r="0.50"/><circle cx="427.6" cy="96.3" r="0.50"/><circle cx="427.6" cy="97.4" r="0.73"/><circle cx="427.2" cy="97.2" r="0.50"/><circle cx="425.9" cy="98.3" r="0.50"/><circle cx="463.3" cy="105.6" r="0.84"/><circle cx="464.4" cy="106.6" r="1.71"/><circle cx="464.2" cy="107.0" r="2.07"/><circle cx="466.2" cy="107.5" r="0.94"/><circle cx="466.8" cy="107.2" r="0.80"/><circle cx="468.3" cy="107.5" r="0.85"/><circle cx="468.3" cy="107.9" r="1.31"/><circle cx="469.4" cy="108.9" r="2.31"/><circle cx="470.5" cy="108.4" r="1.67"/><circle cx="472.1" cy="108.5" r="1.61"/><circle cx="473.2" cy="109.2" r="0.72"/><circle cx="473.9" cy="109.0" r="1.21"/><circle cx="474.6" cy="109.3" r="1.17"/><circle cx="475.6" cy="110.0" r="1.52"/><circle cx="476.7" cy="108.9" r="1.42"/><circle cx="477.9" cy="109.6" r="0.69"/><circle cx="479.5" cy="109.4" r="1.14"/><circle cx="480.2" cy="109.2" r="1.50"/><circle cx="481.1" cy="108.3" r="0.70"/><circle cx="482.2" cy="108.5" r="1.12"/><circle cx="483.4" cy="109.1" r="0.87"/><circle cx="484.7" cy="108.1" r="1.38"/><circle cx="484.9" cy="108.3" r="1.39"/><circle cx="486.6" cy="108.1" r="1.17"/><circle cx="487.4" cy="108.5" r="1.35"/><circle cx="488.5" cy="108.5" r="1.25"/><circle cx="489.5" cy="109.0" r="1.53"/><circle cx="491.0" cy="108.5" r="1.68"/><circle cx="491.3" cy="108.8" r="1.29"/><circle cx="493.1" cy="109.1" r="1.19"/><circle cx="493.7" cy="108.7" r="0.77"/><circle cx="495.2" cy="109.0" r="0.77"/><circle cx="495.6" cy="109.1" r="0.59"/><circle cx="464.8" cy="135.2" r="0.81"/><circle cx="464.5" cy="135.6" r="0.50"/><circle cx="463.3" cy="136.2" r="0.88"/><circle cx="461.4" cy="136.2" r="0.67"/><circle cx="461.3" cy="135.6" r="0.61"/><circle cx="459.9" cy="135.4" r="0.50"/><circle cx="458.1" cy="136.4" r="0.50"/><circle cx="457.6" cy="135.8" r="0.50"/><circle cx="456.9" cy="135.4" r="0.59"/><circle cx="455.9" cy="134.6" r="0.50"/><circle cx="455.3" cy="134.3" r="0.57"/><circle cx="453.6" cy="134.9" r="0.50"/><circle cx="452.6" cy="134.2" r="0.77"/><circle cx="451.6" cy="133.3" r="0.79"/><circle cx="451.2" cy="133.7" r="0.99"/><circle cx="449.3" cy="133.5" r="0.92"/><circle cx="448.3" cy="134.0" r="0.72"/><circle cx="447.2" cy="133.0" r="0.60"/><circle cx="446.6" cy="133.3" r="1.10"/><circle cx="446.0" cy="133.4" r="0.50"/><circle cx="443.9" cy="132.8" r="0.59"/><circle cx="443.8" cy="132.4" r="0.50"/><circle cx="442.5" cy="133.2" r="0.60"/><circle cx="476.6" cy="168.4" r="1.41"/><circle cx="478.5" cy="169.5" r="1.52"/><circle cx="479.0" cy="168.8" r="1.01"/><circle cx="480.4" cy="169.0" r="1.22"/><circle cx="481.1" cy="169.4" r="1.06"/><circle cx="481.9" cy="169.6" r="1.21"/><circle cx="483.6" cy="169.4" r="1.61"/><circle cx="484.5" cy="169.5" r="1.53"/><circle cx="485.8" cy="169.6" r="0.98"/><circle cx="486.9" cy="169.7" r="1.56"/><circle cx="488.1" cy="169.3" r="1.15"/><circle cx="488.1" cy="169.7" r="2.00"/><circle cx="489.7" cy="168.9" r="1.27"/><circle cx="490.6" cy="169.4" r="1.47"/><circle cx="491.7" cy="169.4" r="1.83"/><circle cx="492.2" cy="169.6" r="1.78"/><circle cx="494.2" cy="169.7" r="1.47"/><circle cx="495.2" cy="169.4" r="1.45"/><circle cx="496.1" cy="169.4" r="1.73"/><circle cx="497.0" cy="168.7" r="1.23"/><circle cx="497.8" cy="168.5" r="1.60"/><circle cx="499.3" cy="168.6" r="1.44"/><circle cx="500.0" cy="169.1" r="1.26"/><circle cx="501.1" cy="168.6" r="1.42"/><circle cx="501.7" cy="169.0" r="1.36"/><circle cx="503.2" cy="168.9" r="1.80"/><circle cx="504.0" cy="169.5" r="0.89"/><circle cx="505.3" cy="168.9" r="0.94"/><circle cx="506.0" cy="169.1" r="1.08"/><circle cx="507.1" cy="169.6" r="1.33"/><circle cx="508.9" cy="168.5" r="1.62"/><circle cx="509.2" cy="168.9" r="1.52"/><circle cx="510.9" cy="168.6" r="1.79"/><circle cx="511.6" cy="168.8" r="1.46"/><circle cx="512.7" cy="169.2" r="1.66"/><circle cx="513.3" cy="169.3" r="1.21"/><circle cx="513.9" cy="169.5" r="1.36"/><circle cx="515.6" cy="170.6" r="1.41"/><circle cx="516.3" cy="171.1" r="1.71"/><circle cx="517.2" cy="172.4" r="0.80"/><circle cx="518.3" cy="172.8" r="0.95"/><circle cx="518.1" cy="173.3" r="1.22"/><circle cx="518.9" cy="173.5" r="1.40"/><circle cx="519.7" cy="174.0" r="1.34"/><circle cx="520.9" cy="175.0" r="0.81"/><circle cx="521.6" cy="175.9" r="1.69"/><circle cx="523.1" cy="175.8" r="0.72"/><circle cx="523.5" cy="177.3" r="0.75"/><circle cx="524.5" cy="177.6" r="0.81"/><circle cx="525.3" cy="177.4" r="1.13"/><circle cx="526.2" cy="178.0" r="1.13"/><circle cx="527.1" cy="178.9" r="1.61"/><circle cx="528.0" cy="178.8" r="1.20"/><circle cx="528.8" cy="180.0" r="0.71"/><circle cx="530.2" cy="180.6" r="0.93"/><circle cx="530.9" cy="180.7" r="1.35"/><circle cx="532.0" cy="180.7" r="0.73"/><circle cx="533.2" cy="181.3" r="1.51"/><circle cx="533.6" cy="181.5" r="0.78"/><circle cx="535.1" cy="181.8" r="2.25"/><circle cx="536.0" cy="181.5" r="0.87"/><circle cx="537.4" cy="182.7" r="1.58"/><circle cx="538.4" cy="182.3" r="2.10"/><circle cx="538.9" cy="182.3" r="1.05"/><circle cx="540.8" cy="182.4" r="1.74"/><circle cx="540.7" cy="183.4" r="1.47"/><circle cx="542.2" cy="183.6" r="1.08"/><circle cx="542.9" cy="184.8" r="0.69"/><circle cx="543.9" cy="185.5" r="0.97"/><circle cx="544.5" cy="185.6" r="0.97"/><circle cx="544.6" cy="186.2" r="1.00"/><circle cx="545.9" cy="186.9" r="1.22"/><circle cx="546.7" cy="188.2" r="0.89"/><circle cx="472.4" cy="194.9" r="1.28"/><circle cx="471.7" cy="195.2" r="1.03"/><circle cx="470.1" cy="195.7" r="1.44"/><circle cx="469.6" cy="195.7" r="1.02"/><circle cx="468.7" cy="196.3" r="1.74"/><circle cx="467.1" cy="195.8" r="1.11"/><circle cx="466.5" cy="196.5" r="0.96"/><circle cx="465.6" cy="196.4" r="2.08"/><circle cx="464.2" cy="196.3" r="1.09"/><circle cx="463.6" cy="197.5" r="1.09"/><circle cx="462.6" cy="197.5" r="0.89"/><circle cx="461.6" cy="198.0" r="2.32"/><circle cx="460.8" cy="197.6" r="0.80"/><circle cx="459.2" cy="197.7" r="1.47"/><circle cx="458.2" cy="198.2" r="0.86"/><circle cx="456.9" cy="198.1" r="1.06"/><circle cx="456.2" cy="199.8" r="1.50"/><circle cx="455.8" cy="199.4" r="1.34"/><circle cx="454.1" cy="200.6" r="0.83"/><circle cx="453.1" cy="200.7" r="0.91"/><circle cx="453.1" cy="201.0" r="1.10"/><circle cx="454.1" cy="202.4" r="1.32"/><circle cx="454.0" cy="202.5" r="0.65"/><circle cx="455.5" cy="203.8" r="1.40"/><circle cx="455.1" cy="205.1" r="0.67"/><circle cx="456.6" cy="205.0" r="0.79"/><circle cx="455.6" cy="205.7" r="1.32"/><circle cx="454.4" cy="207.1" r="1.28"/><circle cx="453.4" cy="207.7" r="1.02"/><circle cx="452.9" cy="208.0" r="0.55"/><circle cx="452.2" cy="209.2" r="1.19"/><circle cx="451.4" cy="209.9" r="0.83"/><circle cx="451.4" cy="210.7" r="1.11"/><circle cx="450.9" cy="211.6" r="0.59"/><circle cx="450.3" cy="212.4" r="0.77"/><circle cx="449.0" cy="213.1" r="0.75"/><circle cx="479.2" cy="218.7" r="1.40"/><circle cx="480.9" cy="217.8" r="1.64"/><circle cx="481.6" cy="217.6" r="1.79"/><circle cx="482.6" cy="217.9" r="0.94"/><circle cx="482.7" cy="217.0" r="1.78"/><circle cx="484.1" cy="217.0" r="0.95"/><circle cx="485.3" cy="217.1" r="1.67"/><circle cx="486.5" cy="216.6" r="2.03"/><circle cx="486.8" cy="217.8" r="0.90"/><circle cx="488.2" cy="217.5" r="0.84"/><circle cx="488.6" cy="218.8" r="1.32"/><circle cx="490.2" cy="219.3" r="1.55"/><circle cx="490.8" cy="220.0" r="0.80"/><circle cx="491.3" cy="220.4" r="1.00"/><circle cx="492.9" cy="220.0" r="1.22"/><circle cx="494.0" cy="220.6" r="1.49"/><circle cx="495.1" cy="220.9" r="0.99"/><circle cx="495.9" cy="220.9" r="1.13"/><circle cx="497.1" cy="221.0" r="1.07"/><circle cx="498.0" cy="221.4" r="0.80"/><circle cx="498.7" cy="221.1" r="1.12"/><circle cx="500.0" cy="221.4" r="0.81"/><circle cx="500.9" cy="221.8" r="1.61"/><circle cx="501.9" cy="221.8" r="1.27"/><circle cx="502.6" cy="222.2" r="1.16"/><circle cx="503.5" cy="221.9" r="0.97"/><circle cx="504.7" cy="221.6" r="1.09"/><circle cx="506.2" cy="221.0" r="0.80"/><circle cx="507.7" cy="221.3" r="0.83"/><circle cx="508.3" cy="221.5" r="1.17"/><circle cx="509.1" cy="220.9" r="1.84"/><circle cx="509.9" cy="220.4" r="0.68"/><circle cx="511.2" cy="220.8" r="1.19"/><circle cx="511.7" cy="220.2" r="1.09"/><circle cx="513.0" cy="219.3" r="0.94"/><circle cx="513.6" cy="220.8" r="0.65"/><circle cx="515.1" cy="221.2" r="1.11"/><circle cx="515.4" cy="222.2" r="0.65"/><circle cx="516.2" cy="222.7" r="0.71"/><circle cx="516.9" cy="222.9" r="1.28"/><circle cx="518.7" cy="224.0" r="1.71"/><circle cx="519.1" cy="224.9" r="1.34"/><circle cx="519.3" cy="224.6" r="0.78"/><circle cx="520.8" cy="225.6" r="1.77"/><circle cx="521.4" cy="226.9" r="1.26"/><circle cx="521.8" cy="227.2" r="0.57"/><circle cx="522.5" cy="228.0" r="1.07"/><circle cx="479.2" cy="236.6" r="1.32"/><circle cx="478.0" cy="236.2" r="1.38"/><circle cx="476.6" cy="236.0" r="0.82"/><circle cx="476.2" cy="235.5" r="1.00"/><circle cx="475.2" cy="235.7" r="1.36"/><circle cx="474.5" cy="235.4" r="1.24"/><circle cx="473.0" cy="234.4" r="1.27"/><circle cx="472.4" cy="235.0" r="0.97"/><circle cx="470.8" cy="235.7" r="1.05"/><circle cx="470.2" cy="235.5" r="0.88"/><circle cx="469.1" cy="236.4" r="0.82"/><circle cx="485.6" cy="256.8" r="2.12"/><circle cx="487.1" cy="256.8" r="1.92"/><circle cx="487.8" cy="257.1" r="1.89"/><circle cx="489.3" cy="257.5" r="1.56"/><circle cx="490.6" cy="257.0" r="1.14"/><circle cx="490.6" cy="257.1" r="1.70"/><circle cx="491.8" cy="257.3" r="1.74"/><circle cx="492.6" cy="258.3" r="1.14"/><circle cx="494.0" cy="258.3" r="1.93"/><circle cx="495.0" cy="259.4" r="1.59"/><circle cx="495.8" cy="259.1" r="2.65"/><circle cx="495.7" cy="260.2" r="1.62"/><circle cx="496.9" cy="261.3" r="1.99"/><circle cx="497.8" cy="261.0" r="1.36"/><circle cx="498.6" cy="262.3" r="2.93"/><circle cx="500.3" cy="262.5" r="1.07"/><circle cx="501.2" cy="262.8" r="1.33"/><circle cx="501.7" cy="263.7" r="1.64"/><circle cx="502.4" cy="263.2" r="2.87"/><circle cx="503.4" cy="264.2" r="1.81"/><circle cx="504.7" cy="264.8" r="1.10"/><circle cx="506.1" cy="264.6" r="1.82"/><circle cx="506.9" cy="265.1" r="1.68"/><circle cx="507.3" cy="265.4" r="1.22"/><circle cx="509.1" cy="265.9" r="0.98"/><circle cx="509.8" cy="266.0" r="1.04"/><circle cx="511.0" cy="266.8" r="2.62"/><circle cx="511.0" cy="266.6" r="1.75"/><circle cx="512.1" cy="267.8" r="2.21"/><circle cx="513.9" cy="267.9" r="1.79"/><circle cx="514.6" cy="268.1" r="1.78"/><circle cx="515.2" cy="268.5" r="1.31"/><circle cx="516.5" cy="269.3" r="0.96"/><circle cx="517.9" cy="269.9" r="1.77"/><circle cx="518.7" cy="270.2" r="1.63"/><circle cx="519.5" cy="269.7" r="1.65"/><circle cx="520.6" cy="270.0" r="1.05"/><circle cx="521.9" cy="270.5" r="2.51"/><circle cx="522.9" cy="271.1" r="1.64"/><circle cx="523.8" cy="270.9" r="1.50"/><circle cx="523.8" cy="272.2" r="1.68"/><circle cx="525.1" cy="271.4" r="1.62"/><circle cx="527.0" cy="272.5" r="1.05"/><circle cx="527.6" cy="272.5" r="1.62"/><circle cx="528.4" cy="272.6" r="1.01"/><circle cx="529.5" cy="273.3" r="1.48"/><circle cx="530.1" cy="273.7" r="1.36"/><circle cx="532.0" cy="273.6" r="0.95"/><circle cx="533.0" cy="273.9" r="1.67"/><circle cx="533.1" cy="274.0" r="1.46"/><circle cx="534.8" cy="274.5" r="1.28"/><circle cx="535.2" cy="274.4" r="1.48"/><circle cx="536.1" cy="273.9" r="1.31"/><circle cx="537.9" cy="274.5" r="1.63"/><circle cx="538.8" cy="275.1" r="1.07"/><circle cx="539.5" cy="274.8" r="1.19"/><circle cx="541.3" cy="274.2" r="1.25"/><circle cx="541.6" cy="274.7" r="1.57"/><circle cx="543.3" cy="275.3" r="0.76"/><circle cx="543.4" cy="275.1" r="1.46"/><circle cx="544.7" cy="275.8" r="1.11"/><circle cx="546.3" cy="275.3" r="1.18"/><circle cx="545.9" cy="275.9" r="1.18"/><circle cx="475.4" cy="350.9" r="1.38"/><circle cx="473.9" cy="350.9" r="1.62"/><circle cx="473.0" cy="350.4" r="1.76"/><circle cx="472.6" cy="349.9" r="0.93"/><circle cx="471.7" cy="350.2" r="1.37"/><circle cx="470.4" cy="350.1" r="1.30"/><circle cx="469.5" cy="349.5" r="1.23"/><circle cx="467.6" cy="349.4" r="1.30"/><circle cx="467.5" cy="349.7" r="2.17"/><circle cx="465.5" cy="349.8" r="0.67"/><circle cx="465.6" cy="348.7" r="0.83"/><circle cx="464.4" cy="348.3" r="0.88"/><circle cx="463.5" cy="348.2" r="0.93"/><circle cx="462.6" cy="348.3" r="0.75"/><circle cx="462.5" cy="348.8" r="0.91"/><circle cx="461.9" cy="347.8" r="0.50"/><circle cx="460.4" cy="347.4" r="0.79"/><circle cx="459.5" cy="347.0" r="0.50"/><circle cx="459.0" cy="346.4" r="0.50"/><circle cx="457.6" cy="346.5" r="0.50"/><circle cx="457.0" cy="346.6" r="0.50"/><circle cx="456.1" cy="345.4" r="0.50"/><circle cx="455.3" cy="345.6" r="0.50"/></g>
<g fill="#c6c444"><rect x="459.3" y="91.2" width="1" height="1"/><rect x="484.8" y="277.8" width="1" height="1"/><rect x="454.5" y="80.5" width="1" height="1"/><rect x="469.5" y="135.7" width="1" height="1"/><rect x="476.5" y="211.1" width="1" height="1"/><rect x="475.4" y="171.0" width="1" height="1"/><rect x="476.2" y="349.3" width="1" height="1"/><rect x="481.4" y="292.0" width="1" height="1"/><rect x="484.5" y="249.6" width="1" height="1"/><rect x="474.0" y="178.7" width="1" height="1"/><rect x="477.5" y="217.2" width="1" height="1"/><rect x="476.4" y="161.2" width="1" height="1"/><rect x="468.6" y="134.1" width="1" height="1"/><rect x="478.3" y="207.5" width="1" height="1"/><rect x="474.5" y="178.5" width="1" height="1"/><rect x="479.6" y="364.8" width="1" height="1"/><rect x="475.9" y="193.9" width="1" height="1"/><rect x="483.8" y="253.7" width="1" height="1"/><rect x="450.0" y="61.8" width="1" height="1"/><rect x="466.2" y="124.3" width="1" height="1"/><rect x="450.1" y="61.9" width="1" height="1"/><rect x="460.1" y="105.8" width="1" height="1"/><rect x="467.6" y="135.9" width="1" height="1"/><rect x="451.0" y="69.0" width="1" height="1"/><rect x="481.3" y="235.1" width="1" height="1"/><rect x="477.1" y="376.4" width="1" height="1"/><rect x="461.6" y="112.4" width="1" height="1"/><rect x="473.5" y="194.0" width="1" height="1"/><rect x="478.7" y="229.8" width="1" height="1"/><rect x="479.5" y="227.3" width="1" height="1"/><rect x="484.1" y="247.0" width="1" height="1"/><rect x="476.9" y="208.0" width="1" height="1"/><rect x="478.9" y="307.1" width="1" height="1"/><rect x="475.3" y="162.4" width="1" height="1"/><rect x="475.7" y="333.9" width="1" height="1"/><rect x="472.8" y="177.9" width="1" height="1"/><rect x="461.6" y="105.5" width="1" height="1"/><rect x="476.1" y="337.8" width="1" height="1"/><rect x="472.6" y="153.5" width="1" height="1"/><rect x="485.8" y="269.7" width="1" height="1"/><rect x="481.5" y="235.4" width="1" height="1"/><rect x="477.2" y="217.9" width="1" height="1"/><rect x="479.7" y="297.9" width="1" height="1"/><rect x="476.9" y="209.7" width="1" height="1"/><rect x="473.5" y="196.8" width="1" height="1"/><rect x="474.6" y="339.8" width="1" height="1"/><rect x="479.0" y="227.2" width="1" height="1"/><rect x="473.9" y="166.9" width="1" height="1"/><rect x="476.0" y="202.3" width="1" height="1"/><rect x="474.1" y="202.3" width="1" height="1"/><rect x="472.9" y="178.9" width="1" height="1"/><rect x="485.4" y="265.4" width="1" height="1"/><rect x="480.3" y="236.3" width="1" height="1"/><rect x="478.7" y="354.3" width="1" height="1"/><rect x="475.2" y="168.9" width="1" height="1"/><rect x="477.4" y="352.4" width="1" height="1"/><rect x="481.0" y="294.7" width="1" height="1"/><rect x="480.4" y="377.6" width="1" height="1"/><rect x="474.7" y="199.3" width="1" height="1"/><rect x="454.7" y="84.7" width="1" height="1"/><rect x="477.0" y="208.5" width="1" height="1"/><rect x="475.2" y="162.5" width="1" height="1"/><rect x="462.7" y="118.8" width="1" height="1"/><rect x="476.8" y="350.9" width="1" height="1"/><rect x="479.2" y="293.4" width="1" height="1"/><rect x="476.9" y="359.0" width="1" height="1"/><rect x="476.0" y="160.5" width="1" height="1"/><rect x="477.1" y="325.6" width="1" height="1"/><rect x="465.9" y="130.5" width="1" height="1"/><rect x="478.5" y="351.4" width="1" height="1"/><rect x="460.7" y="110.2" width="1" height="1"/><rect x="477.6" y="305.0" width="1" height="1"/><rect x="481.2" y="230.8" width="1" height="1"/><rect x="473.0" y="188.3" width="1" height="1"/><rect x="454.5" y="81.0" width="1" height="1"/><rect x="474.7" y="190.7" width="1" height="1"/><rect x="474.4" y="193.3" width="1" height="1"/><rect x="454.7" y="72.4" width="1" height="1"/><rect x="482.6" y="270.0" width="1" height="1"/><rect x="451.5" y="62.4" width="1" height="1"/><rect x="468.0" y="138.2" width="1" height="1"/><rect x="482.9" y="290.1" width="1" height="1"/><rect x="470.3" y="145.6" width="1" height="1"/><rect x="477.6" y="206.2" width="1" height="1"/><rect x="479.5" y="365.7" width="1" height="1"/><rect x="484.2" y="262.4" width="1" height="1"/><rect x="468.1" y="136.1" width="1" height="1"/><rect x="479.3" y="225.4" width="1" height="1"/><rect x="483.1" y="244.4" width="1" height="1"/><rect x="466.5" y="127.6" width="1" height="1"/><rect x="480.4" y="224.6" width="1" height="1"/><rect x="480.6" y="231.6" width="1" height="1"/><rect x="483.2" y="238.1" width="1" height="1"/><rect x="482.5" y="291.2" width="1" height="1"/><rect x="483.7" y="273.4" width="1" height="1"/><rect x="479.1" y="359.3" width="1" height="1"/><rect x="477.5" y="305.2" width="1" height="1"/><rect x="464.3" y="125.2" width="1" height="1"/><rect x="480.6" y="299.4" width="1" height="1"/><rect x="474.8" y="166.0" width="1" height="1"/><rect x="464.5" y="125.2" width="1" height="1"/><rect x="475.0" y="200.9" width="1" height="1"/><rect x="484.7" y="283.7" width="1" height="1"/><rect x="471.8" y="148.1" width="1" height="1"/><rect x="483.1" y="264.8" width="1" height="1"/><rect x="480.9" y="244.6" width="1" height="1"/><rect x="473.8" y="176.9" width="1" height="1"/><rect x="477.3" y="324.9" width="1" height="1"/><rect x="475.8" y="332.0" width="1" height="1"/><rect x="476.7" y="341.3" width="1" height="1"/><rect x="478.8" y="219.7" width="1" height="1"/><rect x="466.6" y="124.8" width="1" height="1"/><rect x="484.8" y="271.8" width="1" height="1"/><rect x="478.5" y="224.1" width="1" height="1"/><rect x="462.9" y="114.6" width="1" height="1"/><rect x="456.3" y="80.9" width="1" height="1"/><rect x="476.6" y="325.9" width="1" height="1"/><rect x="475.0" y="321.5" width="1" height="1"/><rect x="469.1" y="138.1" width="1" height="1"/><rect x="485.3" y="260.1" width="1" height="1"/><rect x="456.5" y="75.3" width="1" height="1"/><rect x="479.9" y="220.2" width="1" height="1"/><rect x="478.4" y="367.4" width="1" height="1"/><rect x="463.6" y="123.4" width="1" height="1"/><rect x="474.3" y="181.6" width="1" height="1"/><rect x="473.0" y="186.0" width="1" height="1"/><rect x="483.3" y="277.5" width="1" height="1"/><rect x="476.4" y="209.0" width="1" height="1"/><rect x="476.4" y="329.0" width="1" height="1"/><rect x="481.4" y="291.0" width="1" height="1"/><rect x="458.0" y="92.9" width="1" height="1"/><rect x="470.8" y="147.5" width="1" height="1"/><rect x="471.2" y="150.9" width="1" height="1"/><rect x="479.8" y="227.1" width="1" height="1"/><rect x="485.8" y="272.1" width="1" height="1"/><rect x="462.4" y="119.6" width="1" height="1"/><rect x="477.8" y="376.9" width="1" height="1"/><rect x="477.3" y="217.7" width="1" height="1"/><rect x="473.2" y="185.4" width="1" height="1"/><rect x="478.4" y="226.0" width="1" height="1"/><rect x="455.8" y="79.2" width="1" height="1"/><rect x="478.2" y="368.2" width="1" height="1"/><rect x="478.5" y="363.7" width="1" height="1"/><rect x="476.6" y="353.7" width="1" height="1"/><rect x="475.7" y="163.6" width="1" height="1"/><rect x="452.9" y="67.7" width="1" height="1"/><rect x="484.9" y="259.0" width="1" height="1"/><rect x="475.5" y="327.0" width="1" height="1"/><rect x="482.2" y="285.3" width="1" height="1"/><rect x="472.3" y="189.9" width="1" height="1"/><rect x="458.4" y="98.4" width="1" height="1"/><rect x="455.7" y="87.1" width="1" height="1"/><rect x="459.4" y="92.2" width="1" height="1"/><rect x="475.7" y="320.8" width="1" height="1"/><rect x="475.4" y="158.3" width="1" height="1"/><rect x="472.0" y="146.9" width="1" height="1"/><rect x="475.4" y="319.1" width="1" height="1"/><rect x="482.7" y="245.8" width="1" height="1"/><rect x="482.5" y="289.3" width="1" height="1"/><rect x="483.2" y="288.7" width="1" height="1"/><rect x="477.4" y="221.5" width="1" height="1"/><rect x="462.0" y="111.7" width="1" height="1"/><rect x="465.7" y="134.8" width="1" height="1"/><rect x="477.1" y="340.2" width="1" height="1"/><rect x="475.1" y="197.4" width="1" height="1"/><rect x="479.7" y="299.0" width="1" height="1"/><rect x="480.6" y="292.5" width="1" height="1"/><rect x="456.4" y="75.4" width="1" height="1"/><rect x="478.6" y="363.6" width="1" height="1"/><rect x="460.4" y="105.7" width="1" height="1"/><rect x="479.5" y="295.0" width="1" height="1"/><rect x="481.4" y="245.9" width="1" height="1"/><rect x="455.5" y="72.2" width="1" height="1"/><rect x="476.7" y="167.0" width="1" height="1"/><rect x="479.6" y="225.4" width="1" height="1"/><rect x="470.5" y="139.3" width="1" height="1"/><rect x="484.8" y="252.7" width="1" height="1"/><rect x="477.4" y="312.3" width="1" height="1"/><rect x="473.7" y="174.5" width="1" height="1"/><rect x="482.1" y="292.4" width="1" height="1"/><rect x="484.0" y="277.7" width="1" height="1"/><rect x="476.6" y="318.1" width="1" height="1"/><rect x="456.5" y="76.5" width="1" height="1"/><rect x="467.9" y="133.9" width="1" height="1"/><rect x="465.6" y="120.5" width="1" height="1"/><rect x="475.8" y="178.4" width="1" height="1"/><rect x="464.0" y="114.4" width="1" height="1"/><rect x="481.4" y="240.4" width="1" height="1"/><rect x="475.5" y="199.8" width="1" height="1"/><rect x="476.8" y="360.8" width="1" height="1"/><rect x="474.2" y="201.8" width="1" height="1"/><rect x="478.9" y="359.0" width="1" height="1"/><rect x="467.6" y="136.2" width="1" height="1"/><rect x="475.6" y="163.9" width="1" height="1"/><rect x="473.1" y="150.0" width="1" height="1"/><rect x="454.6" y="73.6" width="1" height="1"/><rect x="480.5" y="235.2" width="1" height="1"/><rect x="476.7" y="358.5" width="1" height="1"/><rect x="475.0" y="199.5" width="1" height="1"/><rect x="480.2" y="296.0" width="1" height="1"/><rect x="474.7" y="167.5" width="1" height="1"/><rect x="479.4" y="228.2" width="1" height="1"/><rect x="460.7" y="100.7" width="1" height="1"/><rect x="480.3" y="299.0" width="1" height="1"/><rect x="478.9" y="297.5" width="1" height="1"/><rect x="464.0" y="128.4" width="1" height="1"/><rect x="449.2" y="60.5" width="1" height="1"/><rect x="475.1" y="161.2" width="1" height="1"/><rect x="465.0" y="125.7" width="1" height="1"/><rect x="481.4" y="293.9" width="1" height="1"/><rect x="483.6" y="290.0" width="1" height="1"/><rect x="479.6" y="297.5" width="1" height="1"/><rect x="483.3" y="241.7" width="1" height="1"/><rect x="449.4" y="63.3" width="1" height="1"/><rect x="467.9" y="136.7" width="1" height="1"/><rect x="449.7" y="64.6" width="1" height="1"/><rect x="478.2" y="221.1" width="1" height="1"/><rect x="457.5" y="94.9" width="1" height="1"/><rect x="482.5" y="277.2" width="1" height="1"/><rect x="456.6" y="76.6" width="1" height="1"/><rect x="470.1" y="143.5" width="1" height="1"/><rect x="476.9" y="215.7" width="1" height="1"/><rect x="477.2" y="207.3" width="1" height="1"/><rect x="450.4" y="62.0" width="1" height="1"/><rect x="485.1" y="265.4" width="1" height="1"/><rect x="455.2" y="78.4" width="1" height="1"/><rect x="464.8" y="125.3" width="1" height="1"/><rect x="470.6" y="145.2" width="1" height="1"/><rect x="472.2" y="192.8" width="1" height="1"/><rect x="480.0" y="291.8" width="1" height="1"/><rect x="463.7" y="111.0" width="1" height="1"/><rect x="475.9" y="349.3" width="1" height="1"/><rect x="479.5" y="217.5" width="1" height="1"/><rect x="456.0" y="91.7" width="1" height="1"/><rect x="466.4" y="137.0" width="1" height="1"/><rect x="476.8" y="355.1" width="1" height="1"/><rect x="452.3" y="62.8" width="1" height="1"/><rect x="474.4" y="154.8" width="1" height="1"/><rect x="459.8" y="99.5" width="1" height="1"/><rect x="476.3" y="164.5" width="1" height="1"/><rect x="469.5" y="137.0" width="1" height="1"/><rect x="461.1" y="102.6" width="1" height="1"/><rect x="457.5" y="89.7" width="1" height="1"/><rect x="475.5" y="210.3" width="1" height="1"/><rect x="455.4" y="73.2" width="1" height="1"/><rect x="477.0" y="302.4" width="1" height="1"/><rect x="455.4" y="75.5" width="1" height="1"/><rect x="476.2" y="337.9" width="1" height="1"/><rect x="474.2" y="334.7" width="1" height="1"/><rect x="476.7" y="204.8" width="1" height="1"/><rect x="475.5" y="182.0" width="1" height="1"/><rect x="456.8" y="76.9" width="1" height="1"/><rect x="474.5" y="161.0" width="1" height="1"/><rect x="483.1" y="279.0" width="1" height="1"/><rect x="464.0" y="127.1" width="1" height="1"/><rect x="480.0" y="225.7" width="1" height="1"/><rect x="474.7" y="201.0" width="1" height="1"/><rect x="476.8" y="323.1" width="1" height="1"/><rect x="471.4" y="148.2" width="1" height="1"/><rect x="455.9" y="85.9" width="1" height="1"/><rect x="477.5" y="374.5" width="1" height="1"/><rect x="464.9" y="123.6" width="1" height="1"/><rect x="451.6" y="69.3" width="1" height="1"/><rect x="485.9" y="266.6" width="1" height="1"/><rect x="482.7" y="292.0" width="1" height="1"/><rect x="477.5" y="349.9" width="1" height="1"/><rect x="464.1" y="120.6" width="1" height="1"/><rect x="479.5" y="296.7" width="1" height="1"/><rect x="456.2" y="77.9" width="1" height="1"/><rect x="478.3" y="219.4" width="1" height="1"/><rect x="479.2" y="377.4" width="1" height="1"/><rect x="474.3" y="181.0" width="1" height="1"/><rect x="484.3" y="264.4" width="1" height="1"/><rect x="483.9" y="284.4" width="1" height="1"/><rect x="479.0" y="229.4" width="1" height="1"/><rect x="451.3" y="64.6" width="1" height="1"/><rect x="480.9" y="289.8" width="1" height="1"/><rect x="475.0" y="189.2" width="1" height="1"/><rect x="475.1" y="330.8" width="1" height="1"/><rect x="486.2" y="267.8" width="1" height="1"/><rect x="481.0" y="291.3" width="1" height="1"/><rect x="454.9" y="78.5" width="1" height="1"/><rect x="485.0" y="256.8" width="1" height="1"/><rect x="476.0" y="215.9" width="1" height="1"/><rect x="476.9" y="164.5" width="1" height="1"/><rect x="480.4" y="300.6" width="1" height="1"/><rect x="483.1" y="249.6" width="1" height="1"/><rect x="472.6" y="194.7" width="1" height="1"/><rect x="472.9" y="191.1" width="1" height="1"/><rect x="452.1" y="70.4" width="1" height="1"/><rect x="463.0" y="116.2" width="1" height="1"/><rect x="473.7" y="170.0" width="1" height="1"/><rect x="478.1" y="297.4" width="1" height="1"/><rect x="459.1" y="95.9" width="1" height="1"/><rect x="476.3" y="177.2" width="1" height="1"/><rect x="475.4" y="350.4" width="1" height="1"/><rect x="486.4" y="266.3" width="1" height="1"/><rect x="475.5" y="211.2" width="1" height="1"/><rect x="486.1" y="261.9" width="1" height="1"/><rect x="475.0" y="170.4" width="1" height="1"/><rect x="484.1" y="266.2" width="1" height="1"/><rect x="475.1" y="337.4" width="1" height="1"/><rect x="475.9" y="325.9" width="1" height="1"/><rect x="480.7" y="289.8" width="1" height="1"/><rect x="483.9" y="288.9" width="1" height="1"/><rect x="484.6" y="274.1" width="1" height="1"/><rect x="453.6" y="67.5" width="1" height="1"/><rect x="481.3" y="292.7" width="1" height="1"/><rect x="473.4" y="175.6" width="1" height="1"/><rect x="477.4" y="169.7" width="1" height="1"/><rect x="456.8" y="78.2" width="1" height="1"/><rect x="477.1" y="333.7" width="1" height="1"/><rect x="456.6" y="81.2" width="1" height="1"/><rect x="483.9" y="288.4" width="1" height="1"/><rect x="475.3" y="187.7" width="1" height="1"/><rect x="478.5" y="362.9" width="1" height="1"/><rect x="475.0" y="348.1" width="1" height="1"/><rect x="476.7" y="160.2" width="1" height="1"/><rect x="457.2" y="81.2" width="1" height="1"/><rect x="481.5" y="291.0" width="1" height="1"/><rect x="479.9" y="232.8" width="1" height="1"/><rect x="449.5" y="63.9" width="1" height="1"/><rect x="464.0" y="112.7" width="1" height="1"/><rect x="476.7" y="160.6" width="1" height="1"/><rect x="473.0" y="196.3" width="1" height="1"/><rect x="460.2" y="101.0" width="1" height="1"/><rect x="477.8" y="362.5" width="1" height="1"/><rect x="482.4" y="282.0" width="1" height="1"/><rect x="458.4" y="92.8" width="1" height="1"/><rect x="477.3" y="301.9" width="1" height="1"/><rect x="479.9" y="293.9" width="1" height="1"/><rect x="453.0" y="71.9" width="1" height="1"/><rect x="475.7" y="337.5" width="1" height="1"/><rect x="456.9" y="93.7" width="1" height="1"/><rect x="473.0" y="190.8" width="1" height="1"/><rect x="473.0" y="157.1" width="1" height="1"/><rect x="450.6" y="66.0" width="1" height="1"/><rect x="470.0" y="146.6" width="1" height="1"/><rect x="477.2" y="168.4" width="1" height="1"/><rect x="469.0" y="141.6" width="1" height="1"/><rect x="481.7" y="289.1" width="1" height="1"/><rect x="474.2" y="157.4" width="1" height="1"/><rect x="477.1" y="322.7" width="1" height="1"/><rect x="452.1" y="67.9" width="1" height="1"/><rect x="473.7" y="177.0" width="1" height="1"/><rect x="479.2" y="213.0" width="1" height="1"/><rect x="476.8" y="331.9" width="1" height="1"/><rect x="485.0" y="249.1" width="1" height="1"/><rect x="473.9" y="153.1" width="1" height="1"/><rect x="477.7" y="225.9" width="1" height="1"/><rect x="482.5" y="293.2" width="1" height="1"/><rect x="473.3" y="184.9" width="1" height="1"/><rect x="484.7" y="263.9" width="1" height="1"/><rect x="459.5" y="90.6" width="1" height="1"/><rect x="477.0" y="313.9" width="1" height="1"/><rect x="480.9" y="240.8" width="1" height="1"/><rect x="456.2" y="78.2" width="1" height="1"/><rect x="479.1" y="225.0" width="1" height="1"/><rect x="463.8" y="108.9" width="1" height="1"/><rect x="477.3" y="364.5" width="1" height="1"/><rect x="484.0" y="263.7" width="1" height="1"/><rect x="466.4" y="134.9" width="1" height="1"/><rect x="476.3" y="212.8" width="1" height="1"/><rect x="456.9" y="84.8" width="1" height="1"/><rect x="476.8" y="334.3" width="1" height="1"/><rect x="478.8" y="367.8" width="1" height="1"/><rect x="465.3" y="130.4" width="1" height="1"/><rect x="476.2" y="169.3" width="1" height="1"/><rect x="478.4" y="295.5" width="1" height="1"/><rect x="477.6" y="317.0" width="1" height="1"/><rect x="474.6" y="171.2" width="1" height="1"/><rect x="486.6" y="256.3" width="1" height="1"/><rect x="477.2" y="164.9" width="1" height="1"/><rect x="458.5" y="86.1" width="1" height="1"/><rect x="477.2" y="377.1" width="1" height="1"/><rect x="482.0" y="289.6" width="1" height="1"/><rect x="479.7" y="306.5" width="1" height="1"/><rect x="483.9" y="263.8" width="1" height="1"/><rect x="483.3" y="246.6" width="1" height="1"/><rect x="472.8" y="190.7" width="1" height="1"/><rect x="450.3" y="62.6" width="1" height="1"/><rect x="476.3" y="309.5" width="1" height="1"/><rect x="452.6" y="67.0" width="1" height="1"/><rect x="474.3" y="173.6" width="1" height="1"/><rect x="466.8" y="136.9" width="1" height="1"/><rect x="480.6" y="290.5" width="1" height="1"/><rect x="474.8" y="156.1" width="1" height="1"/><rect x="477.4" y="165.5" width="1" height="1"/><rect x="474.7" y="185.5" width="1" height="1"/><rect x="486.6" y="259.1" width="1" height="1"/><rect x="475.1" y="208.2" width="1" height="1"/><rect x="478.1" y="311.6" width="1" height="1"/><rect x="477.7" y="366.7" width="1" height="1"/><rect x="478.2" y="299.9" width="1" height="1"/><rect x="479.0" y="217.9" width="1" height="1"/><rect x="475.1" y="183.5" width="1" height="1"/><rect x="479.1" y="291.3" width="1" height="1"/><rect x="474.3" y="172.3" width="1" height="1"/><rect x="463.6" y="126.6" width="1" height="1"/><rect x="474.4" y="166.8" width="1" height="1"/><rect x="455.2" y="76.7" width="1" height="1"/><rect x="475.7" y="338.7" width="1" height="1"/><rect x="478.9" y="353.3" width="1" height="1"/><rect x="477.6" y="338.4" width="1" height="1"/><rect x="475.3" y="198.2" width="1" height="1"/><rect x="471.3" y="146.6" width="1" height="1"/><rect x="478.6" y="296.2" width="1" height="1"/><rect x="475.8" y="213.8" width="1" height="1"/><rect x="484.2" y="266.4" width="1" height="1"/><rect x="475.5" y="170.4" width="1" height="1"/><rect x="477.3" y="320.9" width="1" height="1"/><rect x="453.7" y="73.7" width="1" height="1"/><rect x="479.8" y="292.2" width="1" height="1"/><rect x="479.5" y="218.9" width="1" height="1"/><rect x="479.5" y="294.5" width="1" height="1"/><rect x="482.9" y="249.3" width="1" height="1"/><rect x="480.2" y="374.3" width="1" height="1"/><rect x="477.2" y="376.8" width="1" height="1"/><rect x="457.0" y="88.8" width="1" height="1"/><rect x="484.0" y="267.9" width="1" height="1"/><rect x="482.1" y="235.7" width="1" height="1"/><rect x="458.8" y="86.1" width="1" height="1"/><rect x="476.7" y="311.5" width="1" height="1"/><rect x="454.3" y="73.7" width="1" height="1"/><rect x="460.1" y="108.7" width="1" height="1"/><rect x="472.0" y="183.7" width="1" height="1"/><rect x="472.1" y="189.5" width="1" height="1"/><rect x="477.6" y="353.7" width="1" height="1"/><rect x="475.0" y="326.8" width="1" height="1"/><rect x="457.0" y="80.5" width="1" height="1"/><rect x="474.0" y="153.4" width="1" height="1"/><rect x="486.5" y="260.4" width="1" height="1"/><rect x="485.0" y="248.4" width="1" height="1"/><rect x="485.8" y="274.2" width="1" height="1"/><rect x="472.1" y="192.4" width="1" height="1"/><rect x="466.6" y="135.0" width="1" height="1"/><rect x="449.6" y="61.5" width="1" height="1"/><rect x="477.0" y="363.8" width="1" height="1"/><rect x="460.0" y="98.5" width="1" height="1"/><rect x="470.3" y="147.2" width="1" height="1"/><rect x="449.3" y="60.6" width="1" height="1"/><rect x="450.1" y="61.6" width="1" height="1"/><rect x="474.8" y="201.3" width="1" height="1"/><rect x="472.4" y="193.8" width="1" height="1"/><rect x="473.3" y="156.9" width="1" height="1"/><rect x="475.2" y="318.9" width="1" height="1"/><rect x="479.9" y="231.3" width="1" height="1"/><rect x="471.7" y="153.3" width="1" height="1"/><rect x="476.5" y="170.4" width="1" height="1"/><rect x="475.5" y="178.3" width="1" height="1"/><rect x="465.5" y="133.7" width="1" height="1"/><rect x="474.9" y="166.2" width="1" height="1"/><rect x="466.3" y="127.3" width="1" height="1"/><rect x="483.0" y="290.7" width="1" height="1"/><rect x="481.7" y="241.1" width="1" height="1"/><rect x="474.5" y="200.7" width="1" height="1"/><rect x="453.8" y="68.8" width="1" height="1"/><rect x="475.4" y="202.3" width="1" height="1"/><rect x="457.7" y="93.9" width="1" height="1"/><rect x="460.1" y="97.3" width="1" height="1"/><rect x="484.1" y="256.7" width="1" height="1"/><rect x="462.4" y="106.5" width="1" height="1"/><rect x="467.8" y="131.1" width="1" height="1"/><rect x="461.8" y="107.8" width="1" height="1"/><rect x="455.6" y="70.8" width="1" height="1"/><rect x="453.4" y="68.7" width="1" height="1"/><rect x="473.4" y="188.8" width="1" height="1"/><rect x="473.9" y="158.6" width="1" height="1"/><rect x="474.3" y="198.4" width="1" height="1"/><rect x="478.0" y="371.3" width="1" height="1"/><rect x="476.3" y="345.3" width="1" height="1"/><rect x="452.0" y="63.5" width="1" height="1"/><rect x="478.3" y="207.3" width="1" height="1"/><rect x="477.6" y="306.0" width="1" height="1"/><rect x="475.0" y="186.3" width="1" height="1"/><rect x="483.3" y="278.9" width="1" height="1"/><rect x="479.4" y="377.5" width="1" height="1"/><rect x="479.7" y="228.8" width="1" height="1"/><rect x="477.1" y="162.7" width="1" height="1"/><rect x="479.1" y="292.6" width="1" height="1"/><rect x="460.1" y="106.7" width="1" height="1"/><rect x="476.2" y="202.2" width="1" height="1"/><rect x="477.7" y="226.7" width="1" height="1"/><rect x="481.5" y="238.4" width="1" height="1"/><rect x="470.9" y="148.6" width="1" height="1"/><rect x="468.4" y="133.1" width="1" height="1"/><rect x="473.2" y="176.5" width="1" height="1"/><rect x="452.3" y="64.9" width="1" height="1"/><rect x="464.0" y="126.3" width="1" height="1"/><rect x="463.3" y="122.4" width="1" height="1"/><rect x="459.8" y="91.6" width="1" height="1"/><rect x="479.5" y="235.6" width="1" height="1"/><rect x="475.0" y="173.0" width="1" height="1"/><rect x="476.6" y="200.3" width="1" height="1"/><rect x="463.8" y="109.5" width="1" height="1"/><rect x="474.9" y="204.2" width="1" height="1"/><rect x="453.9" y="78.1" width="1" height="1"/><rect x="475.3" y="159.9" width="1" height="1"/><rect x="477.6" y="349.1" width="1" height="1"/><rect x="477.7" y="351.3" width="1" height="1"/><rect x="452.1" y="64.1" width="1" height="1"/><rect x="476.8" y="321.7" width="1" height="1"/><rect x="450.5" y="67.6" width="1" height="1"/><rect x="484.0" y="273.3" width="1" height="1"/><rect x="480.1" y="220.1" width="1" height="1"/><rect x="482.7" y="286.1" width="1" height="1"/><rect x="473.2" y="182.4" width="1" height="1"/><rect x="473.2" y="175.9" width="1" height="1"/><rect x="466.8" y="129.9" width="1" height="1"/><rect x="477.6" y="327.6" width="1" height="1"/><rect x="474.2" y="166.4" width="1" height="1"/><rect x="478.0" y="376.6" width="1" height="1"/><rect x="473.5" y="197.8" width="1" height="1"/><rect x="484.6" y="280.4" width="1" height="1"/><rect x="477.0" y="326.9" width="1" height="1"/><rect x="468.9" y="140.3" width="1" height="1"/><rect x="480.3" y="294.6" width="1" height="1"/><rect x="459.2" y="99.5" width="1" height="1"/><rect x="453.3" y="72.6" width="1" height="1"/><rect x="470.2" y="142.0" width="1" height="1"/><rect x="446.2" y="58.8" width="1" height="1"/><rect x="442.4" y="58.8" width="1" height="1"/><rect x="448.7" y="59.2" width="1" height="1"/><rect x="441.7" y="58.2" width="1" height="1"/><rect x="446.5" y="58.4" width="1" height="1"/><rect x="448.5" y="58.7" width="1" height="1"/><rect x="442.9" y="58.6" width="1" height="1"/><rect x="444.5" y="58.1" width="1" height="1"/><rect x="442.1" y="58.1" width="1" height="1"/><rect x="442.3" y="58.0" width="1" height="1"/><rect x="443.0" y="58.6" width="1" height="1"/><rect x="448.2" y="59.1" width="1" height="1"/><rect x="442.4" y="58.2" width="1" height="1"/><rect x="444.0" y="58.4" width="1" height="1"/><rect x="441.8" y="58.1" width="1" height="1"/><rect x="441.5" y="58.3" width="1" height="1"/><rect x="447.8" y="59.2" width="1" height="1"/><rect x="449.2" y="59.3" width="1" height="1"/><rect x="446.5" y="58.7" width="1" height="1"/><rect x="443.2" y="58.0" width="1" height="1"/><rect x="446.7" y="58.9" width="1" height="1"/><rect x="443.4" y="58.5" width="1" height="1"/><rect x="445.5" y="58.2" width="1" height="1"/><rect x="445.8" y="58.0" width="1" height="1"/><rect x="448.0" y="58.6" width="1" height="1"/><rect x="446.1" y="58.1" width="1" height="1"/><rect x="442.1" y="58.0" width="1" height="1"/><rect x="444.4" y="58.6" width="1" height="1"/><rect x="445.8" y="58.3" width="1" height="1"/><rect x="442.8" y="58.4" width="1" height="1"/><rect x="441.4" y="58.9" width="1" height="1"/><rect x="441.9" y="58.2" width="1" height="1"/><rect x="448.0" y="58.9" width="1" height="1"/><rect x="445.8" y="58.4" width="1" height="1"/><rect x="448.0" y="58.8" width="1" height="1"/><rect x="443.6" y="58.3" width="1" height="1"/><rect x="447.7" y="58.6" width="1" height="1"/><rect x="447.6" y="59.1" width="1" height="1"/><rect x="446.7" y="58.4" width="1" height="1"/><rect x="442.5" y="58.5" width="1" height="1"/><rect x="448.5" y="59.2" width="1" height="1"/><rect x="447.8" y="59.2" width="1" height="1"/><rect x="448.7" y="58.4" width="1" height="1"/><rect x="448.1" y="59.0" width="1" height="1"/><rect x="440.0" y="60.1" width="1" height="1"/><rect x="440.7" y="58.5" width="1" height="1"/><rect x="440.9" y="59.0" width="1" height="1"/><rect x="438.9" y="59.9" width="1" height="1"/><rect x="440.4" y="60.2" width="1" height="1"/><rect x="440.1" y="59.2" width="1" height="1"/><rect x="438.5" y="58.5" width="1" height="1"/><rect x="440.5" y="58.5" width="1" height="1"/><rect x="440.5" y="60.2" width="1" height="1"/><rect x="440.8" y="59.0" width="1" height="1"/><rect x="440.1" y="59.8" width="1" height="1"/><rect x="440.3" y="59.2" width="1" height="1"/><rect x="439.7" y="59.4" width="1" height="1"/><rect x="440.1" y="58.8" width="1" height="1"/><rect x="439.3" y="59.5" width="1" height="1"/><rect x="438.6" y="59.5" width="1" height="1"/><rect x="440.4" y="58.8" width="1" height="1"/><rect x="438.3" y="58.9" width="1" height="1"/><rect x="440.0" y="59.3" width="1" height="1"/><rect x="438.6" y="59.3" width="1" height="1"/><rect x="440.6" y="59.4" width="1" height="1"/><rect x="439.4" y="60.2" width="1" height="1"/><rect x="443.1" y="91.9" width="1" height="1"/><rect x="435.4" y="91.4" width="1" height="1"/><rect x="443.0" y="91.3" width="1" height="1"/><rect x="436.3" y="91.1" width="1" height="1"/><rect x="451.2" y="89.2" width="1" height="1"/><rect x="429.2" y="96.2" width="1" height="1"/><rect x="438.9" y="92.8" width="1" height="1"/><rect x="434.1" y="90.6" width="1" height="1"/><rect x="441.5" y="93.4" width="1" height="1"/><rect x="434.7" y="90.8" width="1" height="1"/><rect x="451.3" y="90.2" width="1" height="1"/><rect x="430.6" y="93.3" width="1" height="1"/><rect x="429.8" y="94.8" width="1" height="1"/><rect x="435.9" y="91.6" width="1" height="1"/><rect x="446.6" y="93.1" width="1" height="1"/><rect x="447.0" y="92.1" width="1" height="1"/><rect x="435.4" y="90.3" width="1" height="1"/><rect x="447.4" y="92.6" width="1" height="1"/><rect x="454.8" y="90.5" width="1" height="1"/><rect x="450.7" y="91.5" width="1" height="1"/><rect x="432.7" y="90.8" width="1" height="1"/><rect x="443.1" y="91.9" width="1" height="1"/><rect x="434.3" y="91.5" width="1" height="1"/><rect x="429.2" y="95.2" width="1" height="1"/><rect x="445.5" y="92.3" width="1" height="1"/><rect x="435.7" y="90.4" width="1" height="1"/><rect x="427.5" y="95.7" width="1" height="1"/><rect x="444.9" y="92.6" width="1" height="1"/><rect x="456.0" y="89.9" width="1" height="1"/><rect x="451.8" y="89.4" width="1" height="1"/><rect x="436.0" y="91.4" width="1" height="1"/><rect x="454.1" y="90.1" width="1" height="1"/><rect x="432.1" y="92.1" width="1" height="1"/><rect x="451.9" y="90.5" width="1" height="1"/><rect x="456.0" y="90.9" width="1" height="1"/><rect x="444.7" y="92.5" width="1" height="1"/><rect x="447.4" y="92.9" width="1" height="1"/><rect x="441.1" y="92.7" width="1" height="1"/><rect x="453.6" y="90.8" width="1" height="1"/><rect x="434.5" y="90.5" width="1" height="1"/><rect x="437.7" y="91.7" width="1" height="1"/><rect x="439.8" y="92.5" width="1" height="1"/><rect x="445.9" y="92.7" width="1" height="1"/><rect x="436.3" y="91.8" width="1" height="1"/><rect x="441.1" y="92.4" width="1" height="1"/><rect x="440.6" y="92.8" width="1" height="1"/><rect x="445.5" y="91.8" width="1" height="1"/><rect x="452.9" y="89.8" width="1" height="1"/><rect x="446.2" y="92.7" width="1" height="1"/><rect x="428.5" y="96.2" width="1" height="1"/><rect x="440.0" y="92.4" width="1" height="1"/><rect x="433.7" y="90.5" width="1" height="1"/><rect x="438.7" y="91.5" width="1" height="1"/><rect x="449.6" y="91.8" width="1" height="1"/><rect x="449.5" y="91.0" width="1" height="1"/><rect x="439.0" y="92.6" width="1" height="1"/><rect x="447.0" y="92.8" width="1" height="1"/><rect x="445.4" y="91.7" width="1" height="1"/><rect x="442.7" y="92.4" width="1" height="1"/><rect x="429.5" y="93.6" width="1" height="1"/><rect x="431.0" y="92.3" width="1" height="1"/><rect x="442.4" y="93.2" width="1" height="1"/><rect x="444.9" y="91.7" width="1" height="1"/><rect x="439.5" y="92.1" width="1" height="1"/><rect x="447.8" y="92.4" width="1" height="1"/><rect x="434.0" y="90.6" width="1" height="1"/><rect x="433.4" y="91.3" width="1" height="1"/><rect x="450.6" y="90.2" width="1" height="1"/><rect x="439.7" y="92.6" width="1" height="1"/><rect x="438.4" y="92.6" width="1" height="1"/><rect x="426.4" y="97.8" width="1" height="1"/><rect x="435.3" y="90.2" width="1" height="1"/><rect x="441.5" y="92.0" width="1" height="1"/><rect x="429.6" y="93.2" width="1" height="1"/><rect x="433.0" y="91.6" width="1" height="1"/><rect x="452.5" y="89.7" width="1" height="1"/><rect x="442.6" y="91.6" width="1" height="1"/><rect x="454.3" y="90.1" width="1" height="1"/><rect x="433.1" y="91.3" width="1" height="1"/><rect x="428.9" y="96.4" width="1" height="1"/><rect x="444.6" y="92.6" width="1" height="1"/><rect x="445.8" y="91.6" width="1" height="1"/><rect x="451.4" y="89.7" width="1" height="1"/><rect x="433.0" y="90.6" width="1" height="1"/><rect x="441.9" y="92.0" width="1" height="1"/><rect x="438.0" y="90.8" width="1" height="1"/><rect x="431.0" y="92.7" width="1" height="1"/><rect x="430.4" y="93.4" width="1" height="1"/><rect x="428.9" y="94.6" width="1" height="1"/><rect x="443.1" y="92.1" width="1" height="1"/><rect x="432.3" y="91.1" width="1" height="1"/><rect x="455.9" y="90.8" width="1" height="1"/><rect x="432.3" y="91.9" width="1" height="1"/><rect x="441.8" y="93.1" width="1" height="1"/><rect x="451.2" y="90.3" width="1" height="1"/><rect x="431.5" y="92.3" width="1" height="1"/><rect x="440.6" y="93.7" width="1" height="1"/><rect x="428.7" y="96.7" width="1" height="1"/><rect x="448.8" y="91.2" width="1" height="1"/><rect x="434.6" y="90.9" width="1" height="1"/><rect x="455.9" y="91.1" width="1" height="1"/><rect x="426.6" y="98.0" width="1" height="1"/><rect x="454.6" y="90.1" width="1" height="1"/><rect x="429.8" y="94.7" width="1" height="1"/><rect x="432.0" y="91.7" width="1" height="1"/><rect x="452.5" y="90.8" width="1" height="1"/><rect x="444.6" y="91.6" width="1" height="1"/><rect x="432.5" y="90.7" width="1" height="1"/><rect x="432.9" y="90.4" width="1" height="1"/><rect x="427.3" y="97.3" width="1" height="1"/><rect x="469.7" y="107.6" width="1" height="1"/><rect x="467.5" y="108.4" width="1" height="1"/><rect x="475.4" y="109.1" width="1" height="1"/><rect x="490.4" y="108.6" width="1" height="1"/><rect x="476.9" y="109.7" width="1" height="1"/><rect x="477.1" y="109.5" width="1" height="1"/><rect x="481.1" y="107.6" width="1" height="1"/><rect x="485.5" y="108.0" width="1" height="1"/><rect x="476.8" y="109.6" width="1" height="1"/><rect x="478.3" y="108.8" width="1" height="1"/><rect x="473.5" y="109.5" width="1" height="1"/><rect x="469.3" y="107.4" width="1" height="1"/><rect x="468.5" y="107.4" width="1" height="1"/><rect x="466.4" y="108.2" width="1" height="1"/><rect x="470.6" y="108.3" width="1" height="1"/><rect x="475.4" y="109.1" width="1" height="1"/><rect x="468.8" y="109.1" width="1" height="1"/><rect x="481.5" y="109.5" width="1" height="1"/><rect x="463.9" y="107.0" width="1" height="1"/><rect x="479.1" y="109.7" width="1" height="1"/><rect x="469.5" y="108.4" width="1" height="1"/><rect x="490.3" y="109.6" width="1" height="1"/><rect x="481.1" y="108.0" width="1" height="1"/><rect x="477.8" y="108.8" width="1" height="1"/><rect x="481.7" y="108.6" width="1" height="1"/><rect x="475.7" y="109.8" width="1" height="1"/><rect x="465.3" y="107.7" width="1" height="1"/><rect x="489.0" y="108.2" width="1" height="1"/><rect x="469.7" y="108.3" width="1" height="1"/><rect x="482.5" y="109.6" width="1" height="1"/><rect x="465.6" y="106.7" width="1" height="1"/><rect x="483.0" y="108.1" width="1" height="1"/><rect x="469.1" y="109.3" width="1" height="1"/><rect x="487.1" y="108.9" width="1" height="1"/><rect x="481.0" y="107.6" width="1" height="1"/><rect x="472.7" y="108.2" width="1" height="1"/><rect x="478.7" y="108.3" width="1" height="1"/><rect x="485.2" y="108.9" width="1" height="1"/><rect x="475.9" y="109.2" width="1" height="1"/><rect x="494.3" y="109.1" width="1" height="1"/><rect x="473.0" y="108.1" width="1" height="1"/><rect x="492.4" y="109.2" width="1" height="1"/><rect x="471.3" y="107.8" width="1" height="1"/><rect x="487.8" y="107.8" width="1" height="1"/><rect x="486.9" y="109.0" width="1" height="1"/><rect x="493.1" y="109.8" width="1" height="1"/><rect x="463.3" y="107.0" width="1" height="1"/><rect x="470.2" y="108.4" width="1" height="1"/><rect x="489.0" y="108.5" width="1" height="1"/><rect x="488.9" y="107.7" width="1" height="1"/><rect x="470.6" y="108.4" width="1" height="1"/><rect x="483.7" y="108.4" width="1" height="1"/><rect x="493.6" y="108.6" width="1" height="1"/><rect x="467.3" y="107.2" width="1" height="1"/><rect x="468.7" y="107.0" width="1" height="1"/><rect x="462.3" y="135.2" width="1" height="1"/><rect x="456.5" y="135.3" width="1" height="1"/><rect x="461.7" y="135.9" width="1" height="1"/><rect x="460.5" y="136.4" width="1" height="1"/><rect x="463.3" y="135.6" width="1" height="1"/><rect x="458.0" y="135.3" width="1" height="1"/><rect x="452.7" y="133.5" width="1" height="1"/><rect x="462.3" y="136.0" width="1" height="1"/><rect x="450.1" y="133.7" width="1" height="1"/><rect x="463.2" y="135.8" width="1" height="1"/><rect x="445.9" y="132.9" width="1" height="1"/><rect x="451.8" y="133.4" width="1" height="1"/><rect x="445.1" y="132.5" width="1" height="1"/><rect x="446.8" y="133.4" width="1" height="1"/><rect x="444.0" y="133.4" width="1" height="1"/><rect x="448.2" y="133.9" width="1" height="1"/><rect x="464.2" y="135.6" width="1" height="1"/><rect x="464.3" y="135.7" width="1" height="1"/><rect x="459.0" y="136.2" width="1" height="1"/><rect x="450.8" y="133.5" width="1" height="1"/><rect x="459.4" y="136.3" width="1" height="1"/><rect x="457.9" y="135.9" width="1" height="1"/><rect x="464.2" y="135.8" width="1" height="1"/><rect x="445.3" y="133.6" width="1" height="1"/><rect x="446.5" y="133.0" width="1" height="1"/><rect x="455.6" y="135.1" width="1" height="1"/><rect x="446.6" y="133.8" width="1" height="1"/><rect x="455.6" y="135.8" width="1" height="1"/><rect x="459.0" y="136.4" width="1" height="1"/><rect x="453.6" y="134.9" width="1" height="1"/><rect x="452.8" y="134.3" width="1" height="1"/><rect x="449.0" y="133.9" width="1" height="1"/><rect x="451.0" y="134.1" width="1" height="1"/><rect x="461.7" y="135.9" width="1" height="1"/><rect x="461.0" y="135.9" width="1" height="1"/><rect x="450.5" y="134.1" width="1" height="1"/><rect x="458.1" y="136.5" width="1" height="1"/><rect x="456.1" y="134.8" width="1" height="1"/><rect x="462.0" y="135.2" width="1" height="1"/><rect x="462.7" y="136.1" width="1" height="1"/><rect x="458.8" y="136.5" width="1" height="1"/><rect x="448.4" y="133.1" width="1" height="1"/><rect x="450.7" y="133.9" width="1" height="1"/><rect x="463.6" y="135.3" width="1" height="1"/><rect x="483.3" y="169.9" width="1" height="1"/><rect x="517.1" y="171.4" width="1" height="1"/><rect x="518.4" y="174.4" width="1" height="1"/><rect x="478.5" y="169.1" width="1" height="1"/><rect x="517.6" y="171.8" width="1" height="1"/><rect x="519.3" y="174.4" width="1" height="1"/><rect x="544.2" y="186.7" width="1" height="1"/><rect x="540.9" y="182.0" width="1" height="1"/><rect x="481.6" y="170.6" width="1" height="1"/><rect x="530.1" y="179.0" width="1" height="1"/><rect x="509.6" y="169.4" width="1" height="1"/><rect x="500.4" y="169.8" width="1" height="1"/><rect x="484.7" y="168.6" width="1" height="1"/><rect x="520.6" y="174.2" width="1" height="1"/><rect x="543.5" y="182.6" width="1" height="1"/><rect x="482.3" y="169.1" width="1" height="1"/><rect x="507.2" y="169.0" width="1" height="1"/><rect x="526.5" y="177.5" width="1" height="1"/><rect x="515.6" y="171.2" width="1" height="1"/><rect x="540.1" y="182.7" width="1" height="1"/><rect x="544.1" y="186.7" width="1" height="1"/><rect x="545.1" y="186.8" width="1" height="1"/><rect x="482.7" y="169.7" width="1" height="1"/><rect x="543.4" y="184.1" width="1" height="1"/><rect x="489.7" y="168.2" width="1" height="1"/><rect x="538.7" y="183.6" width="1" height="1"/><rect x="530.8" y="180.9" width="1" height="1"/><rect x="539.9" y="183.5" width="1" height="1"/><rect x="514.9" y="168.0" width="1" height="1"/><rect x="506.9" y="169.8" width="1" height="1"/><rect x="534.1" y="182.8" width="1" height="1"/><rect x="545.9" y="186.7" width="1" height="1"/><rect x="529.6" y="180.4" width="1" height="1"/><rect x="481.0" y="170.2" width="1" height="1"/><rect x="543.0" y="182.9" width="1" height="1"/><rect x="489.0" y="169.8" width="1" height="1"/><rect x="530.4" y="181.1" width="1" height="1"/><rect x="478.6" y="168.8" width="1" height="1"/><rect x="490.0" y="169.6" width="1" height="1"/><rect x="509.7" y="168.4" width="1" height="1"/><rect x="537.0" y="182.1" width="1" height="1"/><rect x="513.8" y="168.6" width="1" height="1"/><rect x="534.4" y="183.1" width="1" height="1"/><rect x="481.2" y="170.1" width="1" height="1"/><rect x="537.5" y="181.7" width="1" height="1"/><rect x="542.1" y="182.5" width="1" height="1"/><rect x="524.7" y="176.2" width="1" height="1"/><rect x="525.0" y="176.0" width="1" height="1"/><rect x="512.1" y="169.9" width="1" height="1"/><rect x="513.1" y="168.3" width="1" height="1"/><rect x="513.2" y="169.1" width="1" height="1"/><rect x="521.0" y="174.5" width="1" height="1"/><rect x="511.1" y="168.0" width="1" height="1"/><rect x="528.5" y="179.7" width="1" height="1"/><rect x="519.1" y="173.6" width="1" height="1"/><rect x="532.4" y="182.3" width="1" height="1"/><rect x="539.5" y="181.5" width="1" height="1"/><rect x="487.3" y="168.2" width="1" height="1"/><rect x="546.8" y="188.0" width="1" height="1"/><rect x="515.5" y="170.9" width="1" height="1"/><rect x="535.0" y="181.4" width="1" height="1"/><rect x="517.0" y="173.1" width="1" height="1"/><rect x="507.2" y="168.4" width="1" height="1"/><rect x="519.9" y="175.1" width="1" height="1"/><rect x="519.7" y="173.8" width="1" height="1"/><rect x="544.3" y="184.8" width="1" height="1"/><rect x="539.0" y="181.9" width="1" height="1"/><rect x="539.9" y="183.4" width="1" height="1"/><rect x="480.1" y="169.3" width="1" height="1"/><rect x="482.1" y="168.6" width="1" height="1"/><rect x="483.8" y="170.6" width="1" height="1"/><rect x="489.2" y="169.6" width="1" height="1"/><rect x="496.3" y="168.4" width="1" height="1"/><rect x="543.7" y="185.2" width="1" height="1"/><rect x="541.1" y="183.8" width="1" height="1"/><rect x="519.3" y="174.4" width="1" height="1"/><rect x="516.9" y="171.1" width="1" height="1"/><rect x="509.7" y="169.2" width="1" height="1"/><rect x="494.0" y="168.2" width="1" height="1"/><rect x="526.5" y="179.2" width="1" height="1"/><rect x="542.9" y="185.5" width="1" height="1"/><rect x="537.5" y="183.5" width="1" height="1"/><rect x="503.5" y="168.6" width="1" height="1"/><rect x="515.8" y="169.7" width="1" height="1"/><rect x="518.2" y="171.8" width="1" height="1"/><rect x="520.3" y="173.1" width="1" height="1"/><rect x="531.2" y="179.4" width="1" height="1"/><rect x="481.7" y="170.5" width="1" height="1"/><rect x="460.2" y="197.2" width="1" height="1"/><rect x="456.0" y="205.5" width="1" height="1"/><rect x="454.3" y="199.2" width="1" height="1"/><rect x="455.3" y="199.9" width="1" height="1"/><rect x="463.9" y="196.8" width="1" height="1"/><rect x="455.4" y="205.0" width="1" height="1"/><rect x="452.3" y="200.6" width="1" height="1"/><rect x="456.6" y="199.1" width="1" height="1"/><rect x="463.7" y="198.1" width="1" height="1"/><rect x="455.3" y="199.1" width="1" height="1"/><rect x="454.6" y="208.6" width="1" height="1"/><rect x="455.0" y="201.7" width="1" height="1"/><rect x="456.2" y="198.5" width="1" height="1"/><rect x="454.6" y="203.1" width="1" height="1"/><rect x="451.2" y="211.9" width="1" height="1"/><rect x="471.4" y="196.3" width="1" height="1"/><rect x="455.5" y="206.1" width="1" height="1"/><rect x="467.1" y="195.4" width="1" height="1"/><rect x="452.2" y="209.2" width="1" height="1"/><rect x="453.5" y="203.0" width="1" height="1"/><rect x="450.2" y="212.1" width="1" height="1"/><rect x="454.1" y="203.4" width="1" height="1"/><rect x="470.2" y="194.8" width="1" height="1"/><rect x="451.8" y="209.5" width="1" height="1"/><rect x="456.3" y="199.7" width="1" height="1"/><rect x="454.9" y="203.3" width="1" height="1"/><rect x="470.2" y="194.8" width="1" height="1"/><rect x="472.3" y="195.0" width="1" height="1"/><rect x="455.4" y="207.6" width="1" height="1"/><rect x="456.8" y="205.7" width="1" height="1"/><rect x="448.7" y="213.1" width="1" height="1"/><rect x="453.7" y="201.1" width="1" height="1"/><rect x="455.4" y="200.3" width="1" height="1"/><rect x="457.0" y="199.4" width="1" height="1"/><rect x="449.9" y="211.4" width="1" height="1"/><rect x="473.1" y="195.2" width="1" height="1"/><rect x="454.5" y="199.9" width="1" height="1"/><rect x="455.2" y="202.2" width="1" height="1"/><rect x="455.9" y="199.1" width="1" height="1"/><rect x="453.9" y="200.1" width="1" height="1"/><rect x="458.9" y="197.9" width="1" height="1"/><rect x="455.7" y="197.9" width="1" height="1"/><rect x="452.1" y="202.1" width="1" height="1"/><rect x="454.9" y="205.4" width="1" height="1"/><rect x="453.0" y="201.4" width="1" height="1"/><rect x="454.2" y="203.8" width="1" height="1"/><rect x="455.5" y="206.8" width="1" height="1"/><rect x="453.0" y="202.2" width="1" height="1"/><rect x="457.2" y="197.8" width="1" height="1"/><rect x="454.6" y="202.5" width="1" height="1"/><rect x="454.6" y="206.5" width="1" height="1"/><rect x="455.4" y="205.7" width="1" height="1"/><rect x="454.1" y="201.4" width="1" height="1"/><rect x="470.6" y="196.7" width="1" height="1"/><rect x="451.2" y="210.1" width="1" height="1"/><rect x="456.4" y="205.5" width="1" height="1"/><rect x="450.5" y="212.5" width="1" height="1"/><rect x="456.3" y="199.3" width="1" height="1"/><rect x="456.0" y="206.9" width="1" height="1"/><rect x="452.6" y="210.4" width="1" height="1"/><rect x="465.9" y="196.9" width="1" height="1"/><rect x="451.0" y="211.2" width="1" height="1"/><rect x="452.8" y="200.6" width="1" height="1"/><rect x="454.0" y="200.1" width="1" height="1"/><rect x="453.4" y="202.6" width="1" height="1"/><rect x="453.1" y="199.8" width="1" height="1"/><rect x="466.2" y="195.9" width="1" height="1"/><rect x="455.0" y="205.4" width="1" height="1"/><rect x="452.3" y="209.6" width="1" height="1"/><rect x="449.7" y="210.9" width="1" height="1"/><rect x="469.6" y="194.9" width="1" height="1"/><rect x="455.0" y="203.3" width="1" height="1"/><rect x="450.9" y="212.3" width="1" height="1"/><rect x="465.8" y="195.6" width="1" height="1"/><rect x="455.4" y="198.1" width="1" height="1"/><rect x="456.0" y="200.8" width="1" height="1"/><rect x="449.3" y="213.9" width="1" height="1"/><rect x="511.8" y="220.2" width="1" height="1"/><rect x="504.8" y="222.9" width="1" height="1"/><rect x="479.9" y="217.6" width="1" height="1"/><rect x="521.3" y="224.7" width="1" height="1"/><rect x="504.8" y="222.9" width="1" height="1"/><rect x="520.7" y="224.0" width="1" height="1"/><rect x="478.7" y="218.2" width="1" height="1"/><rect x="481.9" y="218.5" width="1" height="1"/><rect x="505.9" y="220.7" width="1" height="1"/><rect x="520.3" y="225.9" width="1" height="1"/><rect x="523.0" y="227.8" width="1" height="1"/><rect x="520.1" y="225.3" width="1" height="1"/><rect x="489.4" y="218.2" width="1" height="1"/><rect x="506.0" y="222.5" width="1" height="1"/><rect x="506.9" y="222.4" width="1" height="1"/><rect x="489.8" y="218.1" width="1" height="1"/><rect x="511.4" y="220.4" width="1" height="1"/><rect x="483.7" y="217.9" width="1" height="1"/><rect x="520.7" y="227.5" width="1" height="1"/><rect x="506.4" y="220.6" width="1" height="1"/><rect x="519.8" y="225.9" width="1" height="1"/><rect x="491.5" y="218.8" width="1" height="1"/><rect x="514.8" y="219.6" width="1" height="1"/><rect x="510.8" y="219.5" width="1" height="1"/><rect x="481.3" y="219.1" width="1" height="1"/><rect x="485.6" y="216.5" width="1" height="1"/><rect x="484.6" y="216.0" width="1" height="1"/><rect x="519.1" y="223.3" width="1" height="1"/><rect x="506.1" y="221.6" width="1" height="1"/><rect x="515.9" y="221.2" width="1" height="1"/><rect x="482.1" y="216.8" width="1" height="1"/><rect x="500.2" y="220.4" width="1" height="1"/><rect x="520.5" y="225.2" width="1" height="1"/><rect x="480.6" y="218.5" width="1" height="1"/><rect x="500.9" y="221.2" width="1" height="1"/><rect x="514.0" y="219.9" width="1" height="1"/><rect x="513.2" y="220.3" width="1" height="1"/><rect x="507.1" y="221.0" width="1" height="1"/><rect x="482.0" y="217.0" width="1" height="1"/><rect x="498.6" y="221.6" width="1" height="1"/><rect x="516.8" y="222.0" width="1" height="1"/><rect x="517.5" y="222.2" width="1" height="1"/><rect x="517.2" y="222.6" width="1" height="1"/><rect x="520.9" y="226.6" width="1" height="1"/><rect x="521.9" y="226.2" width="1" height="1"/><rect x="483.2" y="218.3" width="1" height="1"/><rect x="520.5" y="225.4" width="1" height="1"/><rect x="518.6" y="223.4" width="1" height="1"/><rect x="520.3" y="223.5" width="1" height="1"/><rect x="503.5" y="221.2" width="1" height="1"/><rect x="518.4" y="224.9" width="1" height="1"/><rect x="512.9" y="220.0" width="1" height="1"/><rect x="496.7" y="220.3" width="1" height="1"/><rect x="519.4" y="225.3" width="1" height="1"/><rect x="521.7" y="226.2" width="1" height="1"/><rect x="506.9" y="221.4" width="1" height="1"/><rect x="494.3" y="220.9" width="1" height="1"/><rect x="510.7" y="220.7" width="1" height="1"/><rect x="503.0" y="221.1" width="1" height="1"/><rect x="499.0" y="220.4" width="1" height="1"/><rect x="511.4" y="219.3" width="1" height="1"/><rect x="493.5" y="220.1" width="1" height="1"/><rect x="484.4" y="216.4" width="1" height="1"/><rect x="483.3" y="216.7" width="1" height="1"/><rect x="481.8" y="217.3" width="1" height="1"/><rect x="495.2" y="220.7" width="1" height="1"/><rect x="495.1" y="222.1" width="1" height="1"/><rect x="511.0" y="220.1" width="1" height="1"/><rect x="513.2" y="220.0" width="1" height="1"/><rect x="488.0" y="218.2" width="1" height="1"/><rect x="516.1" y="220.9" width="1" height="1"/><rect x="487.6" y="216.6" width="1" height="1"/><rect x="506.7" y="221.4" width="1" height="1"/><rect x="487.6" y="218.3" width="1" height="1"/><rect x="510.4" y="221.0" width="1" height="1"/><rect x="504.8" y="223.0" width="1" height="1"/><rect x="517.9" y="221.5" width="1" height="1"/><rect x="471.9" y="233.9" width="1" height="1"/><rect x="472.4" y="235.8" width="1" height="1"/><rect x="470.9" y="235.6" width="1" height="1"/><rect x="473.8" y="234.3" width="1" height="1"/><rect x="479.1" y="236.5" width="1" height="1"/><rect x="470.1" y="235.4" width="1" height="1"/><rect x="470.0" y="236.2" width="1" height="1"/><rect x="470.9" y="234.5" width="1" height="1"/><rect x="473.2" y="234.9" width="1" height="1"/><rect x="474.2" y="236.0" width="1" height="1"/><rect x="470.3" y="236.0" width="1" height="1"/><rect x="470.9" y="236.0" width="1" height="1"/><rect x="477.9" y="236.3" width="1" height="1"/><rect x="473.7" y="234.4" width="1" height="1"/><rect x="478.3" y="236.8" width="1" height="1"/><rect x="471.3" y="235.5" width="1" height="1"/><rect x="472.5" y="235.7" width="1" height="1"/><rect x="474.4" y="235.8" width="1" height="1"/><rect x="472.6" y="234.8" width="1" height="1"/><rect x="475.6" y="234.5" width="1" height="1"/><rect x="472.4" y="234.2" width="1" height="1"/><rect x="470.4" y="235.9" width="1" height="1"/><rect x="473.5" y="234.6" width="1" height="1"/><rect x="477.9" y="236.5" width="1" height="1"/><rect x="471.7" y="234.0" width="1" height="1"/><rect x="470.3" y="236.0" width="1" height="1"/><rect x="476.3" y="236.6" width="1" height="1"/><rect x="469.9" y="235.0" width="1" height="1"/><rect x="475.7" y="235.2" width="1" height="1"/><rect x="469.5" y="234.7" width="1" height="1"/><rect x="470.6" y="235.4" width="1" height="1"/><rect x="477.2" y="235.6" width="1" height="1"/><rect x="473.5" y="235.5" width="1" height="1"/><rect x="485.4" y="256.3" width="1" height="1"/><rect x="496.6" y="261.0" width="1" height="1"/><rect x="502.5" y="262.3" width="1" height="1"/><rect x="509.4" y="265.6" width="1" height="1"/><rect x="530.3" y="272.5" width="1" height="1"/><rect x="488.6" y="255.8" width="1" height="1"/><rect x="490.9" y="256.9" width="1" height="1"/><rect x="512.5" y="266.2" width="1" height="1"/><rect x="486.9" y="256.4" width="1" height="1"/><rect x="524.4" y="270.8" width="1" height="1"/><rect x="497.2" y="261.5" width="1" height="1"/><rect x="485.5" y="255.9" width="1" height="1"/><rect x="545.1" y="275.6" width="1" height="1"/><rect x="507.6" y="266.8" width="1" height="1"/><rect x="519.6" y="270.9" width="1" height="1"/><rect x="495.6" y="259.0" width="1" height="1"/><rect x="542.7" y="276.4" width="1" height="1"/><rect x="510.6" y="267.1" width="1" height="1"/><rect x="514.3" y="268.7" width="1" height="1"/><rect x="491.0" y="256.0" width="1" height="1"/><rect x="515.4" y="269.0" width="1" height="1"/><rect x="513.4" y="269.0" width="1" height="1"/><rect x="491.6" y="258.4" width="1" height="1"/><rect x="495.9" y="261.2" width="1" height="1"/><rect x="487.8" y="256.0" width="1" height="1"/><rect x="493.8" y="259.8" width="1" height="1"/><rect x="501.9" y="264.3" width="1" height="1"/><rect x="524.9" y="273.4" width="1" height="1"/><rect x="544.7" y="274.5" width="1" height="1"/><rect x="490.2" y="256.4" width="1" height="1"/><rect x="491.8" y="256.7" width="1" height="1"/><rect x="537.9" y="273.6" width="1" height="1"/><rect x="524.4" y="272.9" width="1" height="1"/><rect x="499.3" y="262.8" width="1" height="1"/><rect x="533.1" y="274.2" width="1" height="1"/><rect x="493.8" y="257.8" width="1" height="1"/><rect x="499.6" y="264.0" width="1" height="1"/><rect x="513.7" y="266.7" width="1" height="1"/><rect x="525.8" y="272.0" width="1" height="1"/><rect x="504.5" y="263.2" width="1" height="1"/><rect x="499.8" y="261.4" width="1" height="1"/><rect x="530.1" y="273.1" width="1" height="1"/><rect x="492.4" y="257.0" width="1" height="1"/><rect x="532.0" y="274.4" width="1" height="1"/><rect x="487.1" y="257.4" width="1" height="1"/><rect x="524.7" y="271.1" width="1" height="1"/><rect x="486.6" y="258.4" width="1" height="1"/><rect x="503.3" y="262.5" width="1" height="1"/><rect x="487.8" y="256.2" width="1" height="1"/><rect x="504.1" y="265.2" width="1" height="1"/><rect x="527.5" y="272.4" width="1" height="1"/><rect x="487.3" y="256.9" width="1" height="1"/><rect x="519.9" y="270.0" width="1" height="1"/><rect x="519.5" y="271.6" width="1" height="1"/><rect x="491.9" y="257.3" width="1" height="1"/><rect x="545.8" y="275.5" width="1" height="1"/><rect x="515.8" y="270.1" width="1" height="1"/><rect x="494.7" y="259.9" width="1" height="1"/><rect x="500.3" y="262.6" width="1" height="1"/><rect x="496.7" y="261.5" width="1" height="1"/><rect x="518.2" y="269.5" width="1" height="1"/><rect x="543.0" y="274.0" width="1" height="1"/><rect x="500.6" y="263.5" width="1" height="1"/><rect x="498.4" y="261.0" width="1" height="1"/><rect x="498.3" y="262.6" width="1" height="1"/><rect x="518.0" y="270.1" width="1" height="1"/><rect x="545.9" y="276.3" width="1" height="1"/><rect x="534.0" y="273.6" width="1" height="1"/><rect x="512.1" y="267.7" width="1" height="1"/><rect x="507.3" y="264.5" width="1" height="1"/><rect x="544.6" y="275.3" width="1" height="1"/><rect x="525.9" y="272.0" width="1" height="1"/><rect x="518.1" y="270.9" width="1" height="1"/><rect x="506.9" y="265.2" width="1" height="1"/><rect x="489.5" y="256.0" width="1" height="1"/><rect x="493.7" y="257.5" width="1" height="1"/><rect x="546.5" y="275.0" width="1" height="1"/><rect x="487.7" y="257.2" width="1" height="1"/><rect x="492.5" y="257.5" width="1" height="1"/><rect x="519.4" y="268.8" width="1" height="1"/><rect x="486.4" y="256.5" width="1" height="1"/><rect x="507.7" y="266.7" width="1" height="1"/><rect x="522.7" y="271.1" width="1" height="1"/><rect x="539.6" y="274.8" width="1" height="1"/><rect x="490.0" y="257.3" width="1" height="1"/><rect x="491.9" y="255.5" width="1" height="1"/><rect x="513.6" y="266.8" width="1" height="1"/><rect x="495.3" y="260.8" width="1" height="1"/><rect x="464.3" y="349.4" width="1" height="1"/><rect x="472.8" y="349.7" width="1" height="1"/><rect x="468.4" y="350.5" width="1" height="1"/><rect x="474.0" y="350.8" width="1" height="1"/><rect x="467.2" y="348.8" width="1" height="1"/><rect x="468.2" y="349.7" width="1" height="1"/><rect x="468.2" y="350.0" width="1" height="1"/><rect x="464.9" y="348.9" width="1" height="1"/><rect x="475.2" y="349.2" width="1" height="1"/><rect x="472.5" y="349.8" width="1" height="1"/><rect x="469.8" y="349.9" width="1" height="1"/><rect x="462.6" y="348.1" width="1" height="1"/><rect x="472.9" y="350.0" width="1" height="1"/><rect x="470.1" y="349.6" width="1" height="1"/><rect x="463.2" y="348.0" width="1" height="1"/><rect x="468.9" y="350.2" width="1" height="1"/><rect x="463.9" y="349.2" width="1" height="1"/><rect x="464.1" y="348.9" width="1" height="1"/><rect x="470.4" y="348.8" width="1" height="1"/><rect x="469.6" y="350.6" width="1" height="1"/><rect x="473.5" y="350.1" width="1" height="1"/><rect x="470.1" y="349.3" width="1" height="1"/><rect x="463.9" y="349.6" width="1" height="1"/><rect x="464.4" y="348.5" width="1" height="1"/><rect x="466.6" y="348.7" width="1" height="1"/><rect x="467.2" y="349.5" width="1" height="1"/><rect x="468.8" y="348.8" width="1" height="1"/><rect x="466.9" y="350.1" width="1" height="1"/><rect x="464.4" y="349.3" width="1" height="1"/><rect x="463.1" y="349.0" width="1" height="1"/><rect x="463.1" y="348.0" width="1" height="1"/><rect x="475.3" y="350.9" width="1" height="1"/><rect x="468.4" y="349.7" width="1" height="1"/><rect x="461.1" y="347.4" width="1" height="1"/><rect x="462.0" y="348.4" width="1" height="1"/><rect x="455.8" y="345.6" width="1" height="1"/><rect x="456.1" y="346.1" width="1" height="1"/><rect x="455.0" y="346.0" width="1" height="1"/><rect x="455.2" y="346.0" width="1" height="1"/><rect x="455.9" y="345.9" width="1" height="1"/><rect x="460.5" y="347.7" width="1" height="1"/><rect x="457.3" y="346.1" width="1" height="1"/><rect x="456.8" y="346.0" width="1" height="1"/><rect x="458.1" y="346.5" width="1" height="1"/><rect x="458.7" y="347.4" width="1" height="1"/><rect x="456.5" y="345.8" width="1" height="1"/><rect x="455.0" y="345.1" width="1" height="1"/><rect x="455.0" y="345.6" width="1" height="1"/><rect x="456.6" y="346.2" width="1" height="1"/><rect x="455.0" y="346.1" width="1" height="1"/><rect x="455.5" y="345.3" width="1" height="1"/><rect x="455.0" y="345.1" width="1" height="1"/><rect x="460.6" y="347.9" width="1" height="1"/><rect x="455.1" y="346.1" width="1" height="1"/><rect x="461.0" y="347.5" width="1" height="1"/><rect x="457.8" y="346.9" width="1" height="1"/><rect x="461.4" y="348.5" width="1" height="1"/><rect x="459.5" y="346.8" width="1" height="1"/><rect x="461.0" y="347.4" width="1" height="1"/><rect x="455.4" y="345.3" width="1" height="1"/><rect x="458.6" y="346.2" width="1" height="1"/><rect x="459.5" y="347.1" width="1" height="1"/><rect x="458.2" y="346.8" width="1" height="1"/><rect x="456.3" y="345.8" width="1" height="1"/><rect x="455.3" y="345.7" width="1" height="1"/><rect x="461.6" y="347.6" width="1" height="1"/><rect x="455.4" y="345.6" width="1" height="1"/><rect x="461.7" y="347.8" width="1" height="1"/><rect x="458.4" y="346.3" width="1" height="1"/><rect x="461.0" y="348.0" width="1" height="1"/><rect x="455.5" y="345.7" width="1" height="1"/><rect x="455.7" y="345.8" width="1" height="1"/><rect x="455.8" y="346.2" width="1" height="1"/><rect x="458.4" y="346.9" width="1" height="1"/><rect x="456.2" y="346.3" width="1" height="1"/><rect x="458.6" y="347.2" width="1" height="1"/><rect x="455.9" y="346.0" width="1" height="1"/></g>
<g stroke="#000" stroke-width="1.1" fill="none">
<line x1="51.1" y1="55.3" x2="541" y2="55.3"/>
<line x1="56.2" y1="50.1" x2="56.2" y2="403.6"/>
<line x1="153.1" y1="50.1" x2="153.1" y2="55.3"/>
<line x1="249.9" y1="50.1" x2="249.9" y2="55.3"/>
<line x1="346.8" y1="50.1" x2="346.8" y2="55.3"/>
<line x1="443.6" y1="50.1" x2="443.6" y2="55.3"/>
<line x1="540.5" y1="50.1" x2="540.5" y2="55.3"/>
<line x1="51.1" y1="124.9" x2="56.2" y2="124.9"/>
<line x1="51.1" y1="194.6" x2="56.2" y2="194.6"/>
<line x1="51.1" y1="264.2" x2="56.2" y2="264.2"/>
<line x1="51.1" y1="333.9" x2="56.2" y2="333.9"/>
<line x1="51.1" y1="403.5" x2="56.2" y2="403.5"/>
</g>
<text class="t" transform="translate(56.30 44.30) scale(0.922 1)" text-anchor="middle">0</text>
<text class="t" transform="translate(153.16 44.30) scale(0.922 1)" text-anchor="middle">20</text>
<text class="t" transform="translate(250.02 44.30) scale(0.922 1)" text-anchor="middle">40</text>
<text class="t" transform="translate(346.88 44.30) scale(0.922 1)" text-anchor="middle">60</text>
<text class="t" transform="translate(443.74 44.30) scale(0.922 1)" text-anchor="middle">80</text>
<text class="t" transform="translate(540.60 44.30) scale(0.922 1)" text-anchor="middle">100</text>
<text class="t" transform="translate(45.00 59.80) scale(0.922 1)" text-anchor="end">0</text>
<text class="t" transform="translate(45.00 129.44) scale(0.922 1)" text-anchor="end">5</text>
<text class="t" transform="translate(45.00 199.08) scale(0.922 1)" text-anchor="end">10</text>
<text class="t" transform="translate(45.00 268.72) scale(0.922 1)" text-anchor="end">15</text>
<text class="t" transform="translate(45.00 338.36) scale(0.922 1)" text-anchor="end">20</text>
<text class="t" transform="translate(45.00 408.00) scale(0.922 1)" text-anchor="end">25</text>
<text class="b" x="303.2" y="12.6" text-anchor="middle">Porosity / %</text>
<text class="b" style="font-size:16.42px" transform="translate(14.5 227.8) rotate(-90)" text-anchor="middle">Distance along root axis / mm</text>
<polyline points="356.2,63.9 137.8,80.2 257.7,97.1 159.0,113.7 251.9,130.4 223.5,147.2 183.7,163.9 182.1,180.8 201.0,197.7 194.2,214.3 275.7,231.1 242.5,248.2 325.7,264.6 292.7,281.2 192.8,298.0 116.7,314.6 248.4,331.3 285.1,347.9 246.9,364.7 166.1,381.9" fill="none" stroke="#000" stroke-width="1.08"/>
<g fill="#000"><circle cx="356.2" cy="63.9" r="4.35"/><circle cx="137.8" cy="80.2" r="4.35"/><circle cx="257.7" cy="97.1" r="4.35"/><circle cx="159.0" cy="113.7" r="4.35"/><circle cx="251.9" cy="130.4" r="4.35"/><circle cx="223.5" cy="147.2" r="4.35"/><circle cx="183.7" cy="163.9" r="4.35"/><circle cx="182.1" cy="180.8" r="4.35"/><circle cx="201.0" cy="197.7" r="4.35"/><circle cx="194.2" cy="214.3" r="4.35"/><circle cx="275.7" cy="231.1" r="4.35"/><circle cx="242.5" cy="248.2" r="4.35"/><circle cx="325.7" cy="264.6" r="4.35"/><circle cx="292.7" cy="281.2" r="4.35"/><circle cx="192.8" cy="298.0" r="4.35"/><circle cx="116.7" cy="314.6" r="4.35"/><circle cx="248.4" cy="331.3" r="4.35"/><circle cx="285.1" cy="347.9" r="4.35"/><circle cx="246.9" cy="364.7" r="4.35"/><circle cx="166.1" cy="381.9" r="4.35"/></g>
<polyline points="310.5,63.9 241.5,80.2 206.0,97.1 165.5,113.7 180.6,130.4 184.8,147.2 163.5,163.9 179.9,180.8 180.6,197.7 201.8,214.3 241.2,231.1 236.0,248.2 232.5,264.6 258.4,281.2 205.6,298.0 154.1,314.6 196.4,331.3 228.2,347.9 225.6,364.7 150.5,381.9" fill="none" stroke="#000" stroke-width="1" stroke-dasharray="1 3"/>
<g fill="#fff" stroke="#000" stroke-width="1.1"><circle cx="310.5" cy="63.9" r="4.02"/><circle cx="241.5" cy="80.2" r="4.02"/><circle cx="206.0" cy="97.1" r="4.02"/><circle cx="165.5" cy="113.7" r="4.02"/><circle cx="180.6" cy="130.4" r="4.02"/><circle cx="184.8" cy="147.2" r="4.02"/><circle cx="163.5" cy="163.9" r="4.02"/><circle cx="179.9" cy="180.8" r="4.02"/><circle cx="180.6" cy="197.7" r="4.02"/><circle cx="201.8" cy="214.3" r="4.02"/><circle cx="241.2" cy="231.1" r="4.02"/><circle cx="236.0" cy="248.2" r="4.02"/><circle cx="232.5" cy="264.6" r="4.02"/><circle cx="258.4" cy="281.2" r="4.02"/><circle cx="205.6" cy="298.0" r="4.02"/><circle cx="154.1" cy="314.6" r="4.02"/><circle cx="196.4" cy="331.3" r="4.02"/><circle cx="228.2" cy="347.9" r="4.02"/><circle cx="225.6" cy="364.7" r="4.02"/><circle cx="150.5" cy="381.9" r="4.02"/></g>
<text x="490.7" y="364" text-anchor="middle" style="font-family:'DejaVu Sans',sans-serif;font-size:20px;stroke:#000;stroke-width:0.35px">*</text>
<line x1="570.2" y1="130.8" x2="601.4" y2="130.8" stroke="#000" stroke-width="1.15"/><circle cx="585.6" cy="130.8" r="4.35" fill="#000"/>

<text class="t" transform="translate(609.10 135.70) scale(0.922 1)" text-anchor="start">0.024 mm</text>

<text class="t" transform="translate(609.10 150.70) scale(0.922 1)" text-anchor="start">from root</text>

<line x1="570.2" y1="177.9" x2="601" y2="177.9" stroke="#000" stroke-width="1" stroke-dasharray="1 3"/><circle cx="586" cy="177.9" r="4.02" fill="#fff" stroke="#000" stroke-width="1.1"/>

<text class="t" transform="translate(609.10 183.00) scale(0.922 1)" text-anchor="start">0.600 mm</text>

<text class="t" transform="translate(609.10 197.80) scale(0.922 1)" text-anchor="start">from root</text>

<line x1="569.1" y1="238.2" x2="599.4" y2="238.2" stroke="#3a3a3a" stroke-width="1" stroke-dasharray="13.2 4.4"/>

<text class="t" transform="translate(609.10 227.70) scale(0.922 1)" text-anchor="start">Localised</text>

<text class="t" transform="translate(609.10 242.60) scale(0.922 1)" text-anchor="start">increase in</text>

<text class="t" transform="translate(609.10 257.40) scale(0.922 1)" text-anchor="start">porosity</text>

<line x1="569" y1="293.4" x2="597" y2="293.4" stroke="#858585" stroke-width="1" stroke-dasharray="1 1.8"/>

<text class="t" transform="translate(609.10 289.40) scale(0.922 1)" text-anchor="start">Localised</text>

<text class="t" transform="translate(609.10 304.20) scale(0.922 1)" text-anchor="start">densification</text>

</svg></body></html>
